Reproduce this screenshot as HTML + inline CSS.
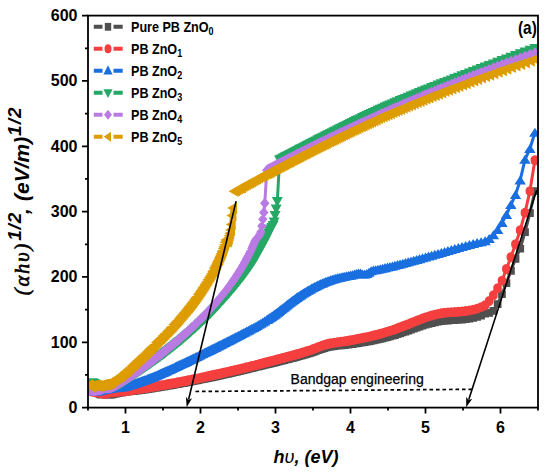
<!DOCTYPE html>
<html><head><meta charset="utf-8"><style>
html,body{margin:0;padding:0;background:#fff;width:550px;height:474px;overflow:hidden}
svg{display:block}
text{font-family:"Liberation Sans",sans-serif}
</style></head><body>
<svg width="550" height="474" viewBox="0 0 550 474">
<defs><clipPath id="cp"><rect x="88" y="15.6" width="450" height="392"/></clipPath></defs>
<rect width="550" height="474" fill="#fff"/>
<g clip-path="url(#cp)">
<path d="M88.0 391.3L88.6 391.2L89.2 391.1L89.8 391.1L90.4 391.0L91.1 391.0L91.7 390.9L92.3 390.9L92.9 390.9L93.6 391.0L94.2 390.9L94.8 391.0L95.4 391.1L96.0 391.4L96.7 391.8L97.3 392.3L97.9 392.9L98.5 393.4L99.1 393.9L99.8 394.2L100.4 394.4L101.0 394.5L101.7 394.5L102.3 394.6L102.9 394.6L103.6 394.7L104.2 394.7L104.8 394.7L105.5 394.8L106.1 394.8L106.7 394.9L107.3 394.9L108.0 394.9L108.6 395.0L109.3 394.9L109.9 394.9L110.5 394.8L111.1 394.7L111.8 394.5L112.4 394.4L113.1 394.2L113.8 394.0L114.4 393.8L115.0 393.7L115.6 393.6L116.3 393.4L116.9 393.3L117.6 393.1L118.3 393.0L119.0 392.9L119.6 392.8L120.2 392.6L120.8 392.5L121.5 392.4L122.1 392.3L122.8 392.2L123.5 392.1L124.2 392.0L124.9 391.9L125.6 391.8L126.2 391.8L126.9 391.7L127.5 391.6L128.1 391.5L128.8 391.4L129.4 391.4L130.1 391.3L130.8 391.2L131.5 391.2L132.2 391.1L132.9 391.0L133.7 391.0L134.4 390.9L135.0 390.9L135.7 390.8L136.3 390.7L136.9 390.6L137.6 390.5L138.2 390.4L138.9 390.3L139.6 390.2L140.3 390.1L141.0 390.0L141.7 389.9L142.4 389.8L143.1 389.7L143.9 389.6L144.6 389.5L145.4 389.4L146.2 389.3L147.0 389.1L147.6 389.1L148.2 389.0L148.8 388.9L149.4 388.8L150.1 388.7L150.7 388.6L151.4 388.5L152.0 388.4L152.7 388.3L153.4 388.2L154.1 388.0L154.8 387.9L155.5 387.8L156.2 387.7L156.9 387.6L157.6 387.5L158.4 387.3L159.1 387.2L159.9 387.1L160.7 387.0L161.5 386.8L162.3 386.7L163.1 386.6L163.9 386.4L164.8 386.3L165.6 386.1L166.5 386.0L167.3 385.8L168.2 385.7L169.1 385.5L169.7 385.4L170.3 385.3L171.0 385.2L171.6 385.1L172.2 385.0L172.9 384.9L173.5 384.8L174.2 384.6L174.8 384.5L175.5 384.4L176.2 384.3L176.9 384.1L177.5 384.0L178.2 383.9L179.0 383.8L179.7 383.6L180.4 383.5L181.1 383.4L181.9 383.2L182.6 383.1L183.4 382.9L184.1 382.8L184.9 382.6L185.7 382.5L186.5 382.3L187.3 382.2L188.1 382.0L188.9 381.9L189.7 381.7L190.6 381.6L191.4 381.4L192.3 381.2L193.1 381.1L194.0 380.9L194.9 380.7L195.8 380.5L196.7 380.3L197.7 380.1L198.6 380.0L199.5 379.8L200.5 379.6L201.5 379.4L202.5 379.2L203.5 379.0L204.5 378.8L205.5 378.5L206.5 378.3L207.6 378.1L208.7 377.9L209.7 377.6L210.8 377.4L212.0 377.2L213.1 376.9L214.2 376.7L215.4 376.4L216.6 376.2L217.8 375.9L218.4 375.8L219.0 375.7L219.6 375.5L220.2 375.4L220.8 375.2L221.5 375.1L222.1 375.0L222.7 374.8L223.4 374.7L224.0 374.5L224.7 374.4L225.3 374.2L226.0 374.1L226.6 373.9L227.3 373.8L228.0 373.6L228.7 373.5L229.3 373.3L230.0 373.2L230.7 373.0L231.4 372.9L232.1 372.7L232.9 372.5L233.6 372.4L234.3 372.2L235.0 372.0L235.8 371.9L236.5 371.7L237.2 371.5L238.0 371.3L238.8 371.2L239.5 371.0L240.3 370.8L241.1 370.6L241.9 370.4L242.6 370.2L243.4 370.1L244.2 369.9L245.1 369.7L245.9 369.5L246.7 369.3L247.5 369.1L248.4 368.9L249.2 368.7L250.1 368.5L250.9 368.3L251.8 368.1L252.7 367.8L253.6 367.6L254.4 367.4L255.3 367.2L256.3 367.0L257.2 366.8L258.1 366.5L259.0 366.3L260.0 366.1L260.9 365.9L261.9 365.6L262.8 365.4L263.8 365.1L264.8 364.9L265.8 364.7L266.8 364.4L267.8 364.2L268.8 363.9L269.8 363.6L270.9 363.4L271.9 363.1L273.0 362.9L274.1 362.6L275.1 362.3L276.2 362.0L277.3 361.8L278.4 361.5L279.6 361.2L280.7 360.9L281.8 360.6L283.0 360.3L284.2 360.0L285.3 359.7L286.5 359.4L287.7 359.1L289.0 358.8L290.2 358.5L291.4 358.1L292.7 357.8L294.0 357.5L295.2 357.1L296.5 356.8L297.8 356.4L299.2 356.1L300.5 355.7L301.9 355.3L303.2 354.9L304.6 354.6L306.0 354.2L307.4 353.7L308.8 353.3L310.3 352.8L311.7 352.3L313.2 351.8L314.7 351.3L316.2 350.8L317.7 350.2L319.3 349.6L320.8 349.1L322.4 348.5L324.0 348.0L325.6 347.6L327.3 347.2L328.9 346.9L330.6 346.6L332.3 346.4L334.0 346.2L335.8 345.9L337.5 345.8L339.3 345.6L341.1 345.4L343.0 345.2L344.8 345.0L346.7 344.8L348.6 344.5L350.5 344.3L352.4 344.0L354.4 343.7L356.4 343.4L358.4 343.1L360.5 342.8L362.6 342.4L364.7 342.1L366.8 341.7L369.0 341.3L371.2 340.9L373.4 340.4L375.7 339.9L378.0 339.4L380.3 338.9L382.6 338.3L385.0 337.8L387.5 337.1L389.9 336.5L392.4 335.7L394.9 335.0L397.5 334.2L400.1 333.3L402.8 332.5L405.5 331.5L408.2 330.6L411.0 329.6L413.8 328.6L416.6 327.6L419.5 326.6L422.5 325.6L425.5 324.7L428.5 323.8L431.6 323.0L434.8 322.3L438.0 321.8L441.3 321.3L444.6 320.8L447.9 320.5L451.4 320.3L454.8 320.1L458.4 319.9L462.0 319.6L465.7 319.2L469.4 318.7L473.2 318.0L477.1 316.9L481.1 315.5L485.1 313.7L489.2 312.8L493.4 310.9L497.6 304.0L502.0 294.2L506.4 283.0L510.9 270.8L515.5 258.9L520.2 248.7L525.0 232.0L529.9 213.1L534.9 191.1" fill="none" stroke="#4F4F4F" stroke-width="3.0" stroke-linejoin="round"/>
<path d="M84.2 387.4h7.7v7.7h-7.7zM85.2 387.3h7.7v7.7h-7.7zM86.2 387.2h7.7v7.7h-7.7zM87.3 387.1h7.7v7.7h-7.7zM88.3 387.1h7.7v7.7h-7.7zM89.3 387.1h7.7v7.7h-7.7zM90.3 387.1h7.7v7.7h-7.7zM91.3 387.2h7.7v7.7h-7.7zM92.4 387.7h7.7v7.7h-7.7zM93.4 388.4h7.7v7.7h-7.7zM94.4 389.3h7.7v7.7h-7.7zM95.4 390.1h7.7v7.7h-7.7zM96.5 390.5h7.7v7.7h-7.7zM97.5 390.7h7.7v7.7h-7.7zM98.5 390.8h7.7v7.7h-7.7zM99.5 390.8h7.7v7.7h-7.7zM100.6 390.9h7.7v7.7h-7.7zM101.6 390.9h7.7v7.7h-7.7zM102.6 391.0h7.7v7.7h-7.7zM103.7 391.1h7.7v7.7h-7.7zM104.7 391.1h7.7v7.7h-7.7zM105.8 391.1h7.7v7.7h-7.7zM106.8 390.9h7.7v7.7h-7.7zM107.9 390.7h7.7v7.7h-7.7zM108.9 390.4h7.7v7.7h-7.7zM109.9 390.2h7.7v7.7h-7.7zM111.0 389.9h7.7v7.7h-7.7zM112.1 389.7h7.7v7.7h-7.7zM113.1 389.5h7.7v7.7h-7.7zM114.2 389.2h7.7v7.7h-7.7zM115.3 389.0h7.7v7.7h-7.7zM116.3 388.8h7.7v7.7h-7.7zM117.3 388.7h7.7v7.7h-7.7zM118.4 388.5h7.7v7.7h-7.7zM119.4 388.3h7.7v7.7h-7.7zM120.5 388.2h7.7v7.7h-7.7zM121.6 388.1h7.7v7.7h-7.7zM122.7 387.9h7.7v7.7h-7.7zM123.7 387.8h7.7v7.7h-7.7zM124.7 387.6h7.7v7.7h-7.7zM125.8 387.5h7.7v7.7h-7.7zM126.8 387.4h7.7v7.7h-7.7zM128.0 387.3h7.7v7.7h-7.7zM129.0 387.2h7.7v7.7h-7.7zM130.0 387.1h7.7v7.7h-7.7zM131.1 387.1h7.7v7.7h-7.7zM132.2 386.9h7.7v7.7h-7.7zM133.3 386.8h7.7v7.7h-7.7zM134.4 386.6h7.7v7.7h-7.7zM135.4 386.5h7.7v7.7h-7.7zM136.4 386.3h7.7v7.7h-7.7zM137.5 386.2h7.7v7.7h-7.7zM138.6 386.0h7.7v7.7h-7.7zM139.7 385.8h7.7v7.7h-7.7zM140.8 385.7h7.7v7.7h-7.7zM142.0 385.5h7.7v7.7h-7.7zM143.1 385.3h7.7v7.7h-7.7zM144.2 385.2h7.7v7.7h-7.7zM145.2 385.0h7.7v7.7h-7.7zM146.2 384.8h7.7v7.7h-7.7zM147.3 384.7h7.7v7.7h-7.7zM148.4 384.5h7.7v7.7h-7.7zM149.6 384.3h7.7v7.7h-7.7zM150.7 384.1h7.7v7.7h-7.7zM151.9 384.0h7.7v7.7h-7.7zM153.1 383.8h7.7v7.7h-7.7zM154.3 383.6h7.7v7.7h-7.7zM155.3 383.4h7.7v7.7h-7.7zM156.3 383.2h7.7v7.7h-7.7zM157.4 383.1h7.7v7.7h-7.7zM158.5 382.9h7.7v7.7h-7.7zM159.5 382.7h7.7v7.7h-7.7zM160.6 382.5h7.7v7.7h-7.7zM161.8 382.3h7.7v7.7h-7.7zM162.9 382.1h7.7v7.7h-7.7zM164.1 381.9h7.7v7.7h-7.7zM165.3 381.7h7.7v7.7h-7.7zM166.5 381.5h7.7v7.7h-7.7zM167.8 381.3h7.7v7.7h-7.7zM169.0 381.0h7.7v7.7h-7.7zM170.3 380.8h7.7v7.7h-7.7zM171.7 380.6h7.7v7.7h-7.7zM172.7 380.4h7.7v7.7h-7.7zM173.7 380.2h7.7v7.7h-7.7zM174.8 380.0h7.7v7.7h-7.7zM175.8 379.8h7.7v7.7h-7.7zM176.9 379.6h7.7v7.7h-7.7zM178.0 379.4h7.7v7.7h-7.7zM179.2 379.2h7.7v7.7h-7.7zM180.3 379.0h7.7v7.7h-7.7zM181.5 378.8h7.7v7.7h-7.7zM182.6 378.5h7.7v7.7h-7.7zM183.8 378.3h7.7v7.7h-7.7zM185.1 378.1h7.7v7.7h-7.7zM186.3 377.8h7.7v7.7h-7.7zM187.6 377.6h7.7v7.7h-7.7zM188.9 377.3h7.7v7.7h-7.7zM190.2 377.1h7.7v7.7h-7.7zM191.5 376.8h7.7v7.7h-7.7zM192.9 376.5h7.7v7.7h-7.7zM194.3 376.2h7.7v7.7h-7.7zM195.7 375.9h7.7v7.7h-7.7zM197.2 375.6h7.7v7.7h-7.7zM198.6 375.3h7.7v7.7h-7.7zM200.1 375.0h7.7v7.7h-7.7zM201.2 374.8h7.7v7.7h-7.7zM202.2 374.6h7.7v7.7h-7.7zM203.2 374.4h7.7v7.7h-7.7zM204.3 374.2h7.7v7.7h-7.7zM205.4 373.9h7.7v7.7h-7.7zM206.5 373.7h7.7v7.7h-7.7zM207.6 373.5h7.7v7.7h-7.7zM208.7 373.2h7.7v7.7h-7.7zM209.8 373.0h7.7v7.7h-7.7zM211.0 372.7h7.7v7.7h-7.7zM212.2 372.5h7.7v7.7h-7.7zM213.3 372.2h7.7v7.7h-7.7zM214.5 372.0h7.7v7.7h-7.7zM215.8 371.7h7.7v7.7h-7.7zM217.0 371.4h7.7v7.7h-7.7zM218.3 371.1h7.7v7.7h-7.7zM219.5 370.9h7.7v7.7h-7.7zM220.8 370.6h7.7v7.7h-7.7zM222.1 370.3h7.7v7.7h-7.7zM223.5 370.0h7.7v7.7h-7.7zM224.8 369.7h7.7v7.7h-7.7zM226.2 369.4h7.7v7.7h-7.7zM227.6 369.0h7.7v7.7h-7.7zM229.0 368.7h7.7v7.7h-7.7zM230.5 368.4h7.7v7.7h-7.7zM231.9 368.0h7.7v7.7h-7.7zM233.4 367.7h7.7v7.7h-7.7zM234.9 367.3h7.7v7.7h-7.7zM236.5 367.0h7.7v7.7h-7.7zM238.0 366.6h7.7v7.7h-7.7zM239.6 366.2h7.7v7.7h-7.7zM241.2 365.8h7.7v7.7h-7.7zM242.9 365.5h7.7v7.7h-7.7zM244.5 365.1h7.7v7.7h-7.7zM246.2 364.6h7.7v7.7h-7.7zM248.0 364.2h7.7v7.7h-7.7zM249.7 363.8h7.7v7.7h-7.7zM251.5 363.4h7.7v7.7h-7.7zM253.3 362.9h7.7v7.7h-7.7zM255.2 362.5h7.7v7.7h-7.7zM257.1 362.0h7.7v7.7h-7.7zM259.0 361.6h7.7v7.7h-7.7zM261.0 361.1h7.7v7.7h-7.7zM263.0 360.6h7.7v7.7h-7.7zM264.0 360.3h7.7v7.7h-7.7zM265.0 360.1h7.7v7.7h-7.7zM266.0 359.8h7.7v7.7h-7.7zM267.1 359.6h7.7v7.7h-7.7zM268.1 359.3h7.7v7.7h-7.7zM269.2 359.0h7.7v7.7h-7.7zM270.2 358.8h7.7v7.7h-7.7zM271.3 358.5h7.7v7.7h-7.7zM272.4 358.2h7.7v7.7h-7.7zM273.5 357.9h7.7v7.7h-7.7zM274.6 357.7h7.7v7.7h-7.7zM275.7 357.4h7.7v7.7h-7.7zM276.9 357.1h7.7v7.7h-7.7zM278.0 356.8h7.7v7.7h-7.7zM279.2 356.5h7.7v7.7h-7.7zM280.3 356.2h7.7v7.7h-7.7zM281.5 355.9h7.7v7.7h-7.7zM282.7 355.6h7.7v7.7h-7.7zM283.9 355.3h7.7v7.7h-7.7zM285.1 355.0h7.7v7.7h-7.7zM286.4 354.6h7.7v7.7h-7.7zM287.6 354.3h7.7v7.7h-7.7zM288.9 354.0h7.7v7.7h-7.7zM290.1 353.7h7.7v7.7h-7.7zM291.4 353.3h7.7v7.7h-7.7zM292.7 353.0h7.7v7.7h-7.7zM294.0 352.6h7.7v7.7h-7.7zM295.3 352.2h7.7v7.7h-7.7zM296.7 351.9h7.7v7.7h-7.7zM298.0 351.5h7.7v7.7h-7.7zM299.4 351.1h7.7v7.7h-7.7zM300.8 350.7h7.7v7.7h-7.7zM302.2 350.3h7.7v7.7h-7.7zM303.6 349.9h7.7v7.7h-7.7zM305.0 349.5h7.7v7.7h-7.7zM306.5 349.0h7.7v7.7h-7.7zM307.9 348.5h7.7v7.7h-7.7zM309.4 348.0h7.7v7.7h-7.7zM310.9 347.5h7.7v7.7h-7.7zM312.4 346.9h7.7v7.7h-7.7zM313.9 346.4h7.7v7.7h-7.7zM315.5 345.8h7.7v7.7h-7.7zM317.0 345.3h7.7v7.7h-7.7zM318.6 344.7h7.7v7.7h-7.7zM320.2 344.2h7.7v7.7h-7.7zM321.8 343.8h7.7v7.7h-7.7zM323.5 343.4h7.7v7.7h-7.7zM325.1 343.1h7.7v7.7h-7.7zM326.8 342.8h7.7v7.7h-7.7zM328.5 342.5h7.7v7.7h-7.7zM330.2 342.3h7.7v7.7h-7.7zM332.0 342.1h7.7v7.7h-7.7zM333.7 341.9h7.7v7.7h-7.7zM335.5 341.8h7.7v7.7h-7.7zM337.3 341.6h7.7v7.7h-7.7zM339.1 341.4h7.7v7.7h-7.7zM341.0 341.2h7.7v7.7h-7.7zM342.9 340.9h7.7v7.7h-7.7zM344.8 340.7h7.7v7.7h-7.7zM346.7 340.4h7.7v7.7h-7.7zM348.6 340.2h7.7v7.7h-7.7zM350.6 339.9h7.7v7.7h-7.7zM352.6 339.6h7.7v7.7h-7.7zM354.6 339.3h7.7v7.7h-7.7zM356.7 338.9h7.7v7.7h-7.7zM358.8 338.6h7.7v7.7h-7.7zM360.9 338.2h7.7v7.7h-7.7zM363.0 337.9h7.7v7.7h-7.7zM365.2 337.5h7.7v7.7h-7.7zM367.4 337.0h7.7v7.7h-7.7zM369.6 336.6h7.7v7.7h-7.7zM371.8 336.1h7.7v7.7h-7.7zM374.1 335.6h7.7v7.7h-7.7zM376.5 335.1h7.7v7.7h-7.7zM378.8 334.5h7.7v7.7h-7.7zM381.2 333.9h7.7v7.7h-7.7zM383.6 333.3h7.7v7.7h-7.7zM386.1 332.6h7.7v7.7h-7.7zM388.6 331.9h7.7v7.7h-7.7zM391.1 331.2h7.7v7.7h-7.7zM393.7 330.4h7.7v7.7h-7.7zM396.3 329.5h7.7v7.7h-7.7zM398.9 328.6h7.7v7.7h-7.7zM401.6 327.7h7.7v7.7h-7.7zM404.4 326.8h7.7v7.7h-7.7zM407.1 325.8h7.7v7.7h-7.7zM410.0 324.8h7.7v7.7h-7.7zM412.8 323.8h7.7v7.7h-7.7zM415.7 322.8h7.7v7.7h-7.7zM418.7 321.8h7.7v7.7h-7.7zM421.7 320.9h7.7v7.7h-7.7zM424.7 320.0h7.7v7.7h-7.7zM427.8 319.2h7.7v7.7h-7.7zM431.0 318.5h7.7v7.7h-7.7zM434.2 317.9h7.7v7.7h-7.7zM437.4 317.4h7.7v7.7h-7.7zM440.7 317.0h7.7v7.7h-7.7zM444.1 316.7h7.7v7.7h-7.7zM447.5 316.4h7.7v7.7h-7.7zM451.0 316.2h7.7v7.7h-7.7zM454.6 316.0h7.7v7.7h-7.7zM458.2 315.8h7.7v7.7h-7.7zM461.9 315.4h7.7v7.7h-7.7zM465.6 314.9h7.7v7.7h-7.7zM469.4 314.1h7.7v7.7h-7.7zM473.3 313.1h7.7v7.7h-7.7zM477.2 311.7h7.7v7.7h-7.7zM481.3 309.8h7.7v7.7h-7.7zM485.4 309.0h7.7v7.7h-7.7zM489.5 307.1h7.7v7.7h-7.7zM493.8 300.2h7.7v7.7h-7.7zM498.1 290.4h7.7v7.7h-7.7zM502.6 279.2h7.7v7.7h-7.7zM507.1 267.0h7.7v7.7h-7.7zM511.7 255.1h7.7v7.7h-7.7zM516.4 244.9h7.7v7.7h-7.7zM521.2 228.2h7.7v7.7h-7.7zM526.1 209.3h7.7v7.7h-7.7zM531.0 187.3h7.7v7.7h-7.7z" fill="#4F4F4F"/>
<path d="M88.0 388.9L88.6 389.1L89.2 389.4L89.8 389.8L90.4 390.3L91.1 390.8L91.7 391.3L92.3 391.7L92.9 391.9L93.6 392.0L94.2 392.1L94.8 392.0L95.4 392.0L96.0 392.1L96.7 392.2L97.3 392.3L97.9 392.5L98.5 392.7L99.1 392.8L99.8 392.9L100.4 393.0L101.0 393.2L101.7 393.4L102.3 393.6L102.9 393.7L103.6 393.9L104.2 393.9L104.8 393.9L105.5 393.8L106.1 393.6L106.7 393.4L107.3 393.2L108.0 393.0L108.6 392.8L109.3 392.6L109.9 392.5L110.5 392.4L111.1 392.4L111.8 392.3L112.4 392.3L113.1 392.2L113.8 392.2L114.4 392.1L115.0 392.1L115.6 392.0L116.3 391.9L116.9 391.9L117.6 391.8L118.3 391.8L119.0 391.7L119.6 391.7L120.2 391.6L120.8 391.6L121.5 391.6L122.1 391.5L122.8 391.5L123.5 391.4L124.2 391.4L124.9 391.3L125.6 391.2L126.2 391.2L126.9 391.1L127.5 391.0L128.1 390.9L128.8 390.8L129.4 390.6L130.1 390.5L130.8 390.4L131.5 390.3L132.2 390.1L132.9 390.0L133.7 389.8L134.4 389.7L135.0 389.6L135.7 389.5L136.3 389.4L136.9 389.3L137.6 389.2L138.2 389.1L138.9 389.0L139.6 388.9L140.3 388.8L141.0 388.7L141.7 388.6L142.4 388.5L143.1 388.4L143.9 388.3L144.6 388.1L145.4 388.0L146.2 387.9L147.0 387.8L147.6 387.7L148.2 387.6L148.8 387.5L149.4 387.4L150.1 387.3L150.7 387.2L151.4 387.1L152.0 387.0L152.7 386.9L153.4 386.7L154.1 386.6L154.8 386.5L155.5 386.4L156.2 386.3L156.9 386.2L157.6 386.0L158.4 385.9L159.1 385.8L159.9 385.6L160.7 385.5L161.5 385.4L162.3 385.2L163.1 385.1L163.9 385.0L164.8 384.8L165.6 384.7L166.5 384.5L167.3 384.3L168.2 384.2L169.1 384.0L169.7 383.9L170.3 383.8L171.0 383.7L171.6 383.6L172.2 383.5L172.9 383.3L173.5 383.2L174.2 383.1L174.8 383.0L175.5 382.9L176.2 382.7L176.9 382.6L177.5 382.5L178.2 382.3L179.0 382.2L179.7 382.1L180.4 381.9L181.1 381.8L181.9 381.6L182.6 381.5L183.4 381.4L184.1 381.2L184.9 381.1L185.7 380.9L186.5 380.7L187.3 380.6L188.1 380.4L188.9 380.3L189.7 380.1L190.6 379.9L191.4 379.8L192.3 379.6L193.1 379.4L194.0 379.2L194.9 379.0L195.8 378.9L196.7 378.7L197.7 378.5L198.6 378.3L199.5 378.1L200.5 377.9L201.5 377.7L202.5 377.5L203.5 377.2L204.5 377.0L205.5 376.8L206.5 376.6L207.6 376.4L208.7 376.1L209.7 375.9L210.8 375.7L212.0 375.4L213.1 375.2L214.2 374.9L215.4 374.6L216.6 374.4L217.8 374.1L218.4 374.0L219.0 373.8L219.6 373.7L220.2 373.6L220.8 373.4L221.5 373.3L222.1 373.1L222.7 373.0L223.4 372.8L224.0 372.7L224.7 372.6L225.3 372.4L226.0 372.2L226.6 372.1L227.3 371.9L228.0 371.8L228.7 371.6L229.3 371.5L230.0 371.3L230.7 371.1L231.4 371.0L232.1 370.8L232.9 370.6L233.6 370.5L234.3 370.3L235.0 370.1L235.8 370.0L236.5 369.8L237.2 369.6L238.0 369.4L238.8 369.2L239.5 369.0L240.3 368.9L241.1 368.7L241.9 368.5L242.6 368.3L243.4 368.1L244.2 367.9L245.1 367.7L245.9 367.5L246.7 367.3L247.5 367.1L248.4 366.9L249.2 366.7L250.1 366.5L250.9 366.3L251.8 366.0L252.7 365.8L253.6 365.6L254.4 365.4L255.3 365.2L256.3 364.9L257.2 364.7L258.1 364.5L259.0 364.2L260.0 364.0L260.9 363.7L261.9 363.5L262.8 363.3L263.8 363.0L264.8 362.8L265.8 362.5L266.8 362.2L267.8 362.0L268.8 361.7L269.8 361.5L270.9 361.2L271.9 360.9L273.0 360.6L274.1 360.4L275.1 360.1L276.2 359.8L277.3 359.5L278.4 359.2L279.6 358.9L280.7 358.6L281.8 358.3L283.0 358.0L284.2 357.7L285.3 357.4L286.5 357.0L287.7 356.7L289.0 356.4L290.2 356.1L291.4 355.7L292.7 355.4L294.0 355.0L295.2 354.7L296.5 354.3L297.8 354.0L299.2 353.6L300.5 353.2L301.9 352.8L303.2 352.4L304.6 351.9L306.0 351.5L307.4 351.0L308.8 350.6L310.3 350.1L311.7 349.6L313.2 349.0L314.7 348.5L316.2 347.9L317.7 347.3L319.3 346.6L320.8 346.1L322.4 345.5L324.0 344.9L325.6 344.5L327.3 344.0L328.9 343.7L330.6 343.3L332.3 343.1L334.0 342.8L335.8 342.6L337.5 342.3L339.3 342.1L341.1 341.8L343.0 341.6L344.8 341.3L346.7 341.0L348.6 340.7L350.5 340.3L352.4 340.0L354.4 339.6L356.4 339.2L358.4 338.8L360.5 338.4L362.6 338.0L364.7 337.5L366.8 337.1L369.0 336.6L371.2 336.1L373.4 335.5L375.7 335.0L378.0 334.4L380.3 333.7L382.6 333.1L385.0 332.4L387.5 331.6L389.9 330.9L392.4 330.1L394.9 329.2L397.5 328.3L400.1 327.3L402.8 326.3L405.5 325.3L408.2 324.2L411.0 323.0L413.8 321.9L416.6 320.8L419.5 319.6L422.5 318.5L425.5 317.4L428.5 316.4L431.6 315.5L434.8 314.6L438.0 313.9L441.3 313.3L444.6 312.8L447.9 312.4L451.4 312.1L454.8 311.9L458.4 311.7L462.0 311.4L465.7 311.0L469.4 310.4L473.2 309.6L477.1 308.6L481.1 307.1L485.1 305.2L489.2 301.0L493.4 295.2L497.6 288.3L502.0 280.6L506.4 269.0L510.9 257.1L515.5 244.3L520.2 230.2L525.0 212.8L529.9 191.1L534.9 160.3" fill="none" stroke="#F53F3F" stroke-width="3.0" stroke-linejoin="round"/>
<path d="M83.7 388.9a4.3 4.3 0 1 0 8.5 0a4.3 4.3 0 1 0 -8.5 0zM84.8 389.3a4.3 4.3 0 1 0 8.5 0a4.3 4.3 0 1 0 -8.5 0zM85.8 389.9a4.3 4.3 0 1 0 8.5 0a4.3 4.3 0 1 0 -8.5 0zM86.8 390.8a4.3 4.3 0 1 0 8.5 0a4.3 4.3 0 1 0 -8.5 0zM87.8 391.5a4.3 4.3 0 1 0 8.5 0a4.3 4.3 0 1 0 -8.5 0zM88.8 391.9a4.3 4.3 0 1 0 8.5 0a4.3 4.3 0 1 0 -8.5 0zM89.9 392.1a4.3 4.3 0 1 0 8.5 0a4.3 4.3 0 1 0 -8.5 0zM90.9 392.0a4.3 4.3 0 1 0 8.5 0a4.3 4.3 0 1 0 -8.5 0zM91.9 392.1a4.3 4.3 0 1 0 8.5 0a4.3 4.3 0 1 0 -8.5 0zM92.9 392.3a4.3 4.3 0 1 0 8.5 0a4.3 4.3 0 1 0 -8.5 0zM93.9 392.6a4.3 4.3 0 1 0 8.5 0a4.3 4.3 0 1 0 -8.5 0zM95.0 392.8a4.3 4.3 0 1 0 8.5 0a4.3 4.3 0 1 0 -8.5 0zM96.0 393.0a4.3 4.3 0 1 0 8.5 0a4.3 4.3 0 1 0 -8.5 0zM97.0 393.3a4.3 4.3 0 1 0 8.5 0a4.3 4.3 0 1 0 -8.5 0zM98.1 393.6a4.3 4.3 0 1 0 8.5 0a4.3 4.3 0 1 0 -8.5 0zM99.1 393.8a4.3 4.3 0 1 0 8.5 0a4.3 4.3 0 1 0 -8.5 0zM100.1 393.9a4.3 4.3 0 1 0 8.5 0a4.3 4.3 0 1 0 -8.5 0zM101.1 393.8a4.3 4.3 0 1 0 8.5 0a4.3 4.3 0 1 0 -8.5 0zM102.2 393.5a4.3 4.3 0 1 0 8.5 0a4.3 4.3 0 1 0 -8.5 0zM103.2 393.2a4.3 4.3 0 1 0 8.5 0a4.3 4.3 0 1 0 -8.5 0zM104.3 392.8a4.3 4.3 0 1 0 8.5 0a4.3 4.3 0 1 0 -8.5 0zM105.3 392.6a4.3 4.3 0 1 0 8.5 0a4.3 4.3 0 1 0 -8.5 0zM106.4 392.4a4.3 4.3 0 1 0 8.5 0a4.3 4.3 0 1 0 -8.5 0zM107.4 392.3a4.3 4.3 0 1 0 8.5 0a4.3 4.3 0 1 0 -8.5 0zM108.5 392.2a4.3 4.3 0 1 0 8.5 0a4.3 4.3 0 1 0 -8.5 0zM109.5 392.2a4.3 4.3 0 1 0 8.5 0a4.3 4.3 0 1 0 -8.5 0zM110.5 392.1a4.3 4.3 0 1 0 8.5 0a4.3 4.3 0 1 0 -8.5 0zM111.6 392.0a4.3 4.3 0 1 0 8.5 0a4.3 4.3 0 1 0 -8.5 0zM112.7 391.9a4.3 4.3 0 1 0 8.5 0a4.3 4.3 0 1 0 -8.5 0zM113.7 391.8a4.3 4.3 0 1 0 8.5 0a4.3 4.3 0 1 0 -8.5 0zM114.8 391.7a4.3 4.3 0 1 0 8.5 0a4.3 4.3 0 1 0 -8.5 0zM115.8 391.6a4.3 4.3 0 1 0 8.5 0a4.3 4.3 0 1 0 -8.5 0zM116.9 391.6a4.3 4.3 0 1 0 8.5 0a4.3 4.3 0 1 0 -8.5 0zM118.0 391.5a4.3 4.3 0 1 0 8.5 0a4.3 4.3 0 1 0 -8.5 0zM119.0 391.4a4.3 4.3 0 1 0 8.5 0a4.3 4.3 0 1 0 -8.5 0zM120.0 391.4a4.3 4.3 0 1 0 8.5 0a4.3 4.3 0 1 0 -8.5 0zM121.1 391.3a4.3 4.3 0 1 0 8.5 0a4.3 4.3 0 1 0 -8.5 0zM122.2 391.1a4.3 4.3 0 1 0 8.5 0a4.3 4.3 0 1 0 -8.5 0zM123.2 391.0a4.3 4.3 0 1 0 8.5 0a4.3 4.3 0 1 0 -8.5 0zM124.2 390.8a4.3 4.3 0 1 0 8.5 0a4.3 4.3 0 1 0 -8.5 0zM125.3 390.6a4.3 4.3 0 1 0 8.5 0a4.3 4.3 0 1 0 -8.5 0zM126.4 390.4a4.3 4.3 0 1 0 8.5 0a4.3 4.3 0 1 0 -8.5 0zM127.5 390.2a4.3 4.3 0 1 0 8.5 0a4.3 4.3 0 1 0 -8.5 0zM128.5 390.0a4.3 4.3 0 1 0 8.5 0a4.3 4.3 0 1 0 -8.5 0zM129.6 389.8a4.3 4.3 0 1 0 8.5 0a4.3 4.3 0 1 0 -8.5 0zM130.6 389.6a4.3 4.3 0 1 0 8.5 0a4.3 4.3 0 1 0 -8.5 0zM131.7 389.4a4.3 4.3 0 1 0 8.5 0a4.3 4.3 0 1 0 -8.5 0zM132.8 389.3a4.3 4.3 0 1 0 8.5 0a4.3 4.3 0 1 0 -8.5 0zM134.0 389.1a4.3 4.3 0 1 0 8.5 0a4.3 4.3 0 1 0 -8.5 0zM135.0 389.0a4.3 4.3 0 1 0 8.5 0a4.3 4.3 0 1 0 -8.5 0zM136.0 388.8a4.3 4.3 0 1 0 8.5 0a4.3 4.3 0 1 0 -8.5 0zM137.0 388.6a4.3 4.3 0 1 0 8.5 0a4.3 4.3 0 1 0 -8.5 0zM138.1 388.5a4.3 4.3 0 1 0 8.5 0a4.3 4.3 0 1 0 -8.5 0zM139.2 388.3a4.3 4.3 0 1 0 8.5 0a4.3 4.3 0 1 0 -8.5 0zM140.4 388.1a4.3 4.3 0 1 0 8.5 0a4.3 4.3 0 1 0 -8.5 0zM141.5 388.0a4.3 4.3 0 1 0 8.5 0a4.3 4.3 0 1 0 -8.5 0zM142.7 387.8a4.3 4.3 0 1 0 8.5 0a4.3 4.3 0 1 0 -8.5 0zM143.7 387.6a4.3 4.3 0 1 0 8.5 0a4.3 4.3 0 1 0 -8.5 0zM144.7 387.5a4.3 4.3 0 1 0 8.5 0a4.3 4.3 0 1 0 -8.5 0zM145.8 387.3a4.3 4.3 0 1 0 8.5 0a4.3 4.3 0 1 0 -8.5 0zM146.9 387.1a4.3 4.3 0 1 0 8.5 0a4.3 4.3 0 1 0 -8.5 0zM148.0 386.9a4.3 4.3 0 1 0 8.5 0a4.3 4.3 0 1 0 -8.5 0zM149.1 386.7a4.3 4.3 0 1 0 8.5 0a4.3 4.3 0 1 0 -8.5 0zM150.3 386.6a4.3 4.3 0 1 0 8.5 0a4.3 4.3 0 1 0 -8.5 0zM151.4 386.4a4.3 4.3 0 1 0 8.5 0a4.3 4.3 0 1 0 -8.5 0zM152.6 386.2a4.3 4.3 0 1 0 8.5 0a4.3 4.3 0 1 0 -8.5 0zM153.9 386.0a4.3 4.3 0 1 0 8.5 0a4.3 4.3 0 1 0 -8.5 0zM154.9 385.8a4.3 4.3 0 1 0 8.5 0a4.3 4.3 0 1 0 -8.5 0zM155.9 385.6a4.3 4.3 0 1 0 8.5 0a4.3 4.3 0 1 0 -8.5 0zM156.9 385.4a4.3 4.3 0 1 0 8.5 0a4.3 4.3 0 1 0 -8.5 0zM158.0 385.2a4.3 4.3 0 1 0 8.5 0a4.3 4.3 0 1 0 -8.5 0zM159.1 385.1a4.3 4.3 0 1 0 8.5 0a4.3 4.3 0 1 0 -8.5 0zM160.2 384.9a4.3 4.3 0 1 0 8.5 0a4.3 4.3 0 1 0 -8.5 0zM161.3 384.7a4.3 4.3 0 1 0 8.5 0a4.3 4.3 0 1 0 -8.5 0zM162.5 384.5a4.3 4.3 0 1 0 8.5 0a4.3 4.3 0 1 0 -8.5 0zM163.6 384.2a4.3 4.3 0 1 0 8.5 0a4.3 4.3 0 1 0 -8.5 0zM164.8 384.0a4.3 4.3 0 1 0 8.5 0a4.3 4.3 0 1 0 -8.5 0zM166.1 383.8a4.3 4.3 0 1 0 8.5 0a4.3 4.3 0 1 0 -8.5 0zM167.3 383.6a4.3 4.3 0 1 0 8.5 0a4.3 4.3 0 1 0 -8.5 0zM168.6 383.3a4.3 4.3 0 1 0 8.5 0a4.3 4.3 0 1 0 -8.5 0zM169.9 383.1a4.3 4.3 0 1 0 8.5 0a4.3 4.3 0 1 0 -8.5 0zM171.2 382.9a4.3 4.3 0 1 0 8.5 0a4.3 4.3 0 1 0 -8.5 0zM172.2 382.7a4.3 4.3 0 1 0 8.5 0a4.3 4.3 0 1 0 -8.5 0zM173.3 382.5a4.3 4.3 0 1 0 8.5 0a4.3 4.3 0 1 0 -8.5 0zM174.3 382.3a4.3 4.3 0 1 0 8.5 0a4.3 4.3 0 1 0 -8.5 0zM175.4 382.1a4.3 4.3 0 1 0 8.5 0a4.3 4.3 0 1 0 -8.5 0zM176.5 381.9a4.3 4.3 0 1 0 8.5 0a4.3 4.3 0 1 0 -8.5 0zM177.6 381.6a4.3 4.3 0 1 0 8.5 0a4.3 4.3 0 1 0 -8.5 0zM178.7 381.4a4.3 4.3 0 1 0 8.5 0a4.3 4.3 0 1 0 -8.5 0zM179.8 381.2a4.3 4.3 0 1 0 8.5 0a4.3 4.3 0 1 0 -8.5 0zM181.0 381.0a4.3 4.3 0 1 0 8.5 0a4.3 4.3 0 1 0 -8.5 0zM182.2 380.7a4.3 4.3 0 1 0 8.5 0a4.3 4.3 0 1 0 -8.5 0zM183.4 380.5a4.3 4.3 0 1 0 8.5 0a4.3 4.3 0 1 0 -8.5 0zM184.6 380.3a4.3 4.3 0 1 0 8.5 0a4.3 4.3 0 1 0 -8.5 0zM185.9 380.0a4.3 4.3 0 1 0 8.5 0a4.3 4.3 0 1 0 -8.5 0zM187.1 379.8a4.3 4.3 0 1 0 8.5 0a4.3 4.3 0 1 0 -8.5 0zM188.4 379.5a4.3 4.3 0 1 0 8.5 0a4.3 4.3 0 1 0 -8.5 0zM189.7 379.2a4.3 4.3 0 1 0 8.5 0a4.3 4.3 0 1 0 -8.5 0zM191.1 378.9a4.3 4.3 0 1 0 8.5 0a4.3 4.3 0 1 0 -8.5 0zM192.5 378.7a4.3 4.3 0 1 0 8.5 0a4.3 4.3 0 1 0 -8.5 0zM193.8 378.4a4.3 4.3 0 1 0 8.5 0a4.3 4.3 0 1 0 -8.5 0zM195.3 378.1a4.3 4.3 0 1 0 8.5 0a4.3 4.3 0 1 0 -8.5 0zM196.7 377.8a4.3 4.3 0 1 0 8.5 0a4.3 4.3 0 1 0 -8.5 0zM198.2 377.5a4.3 4.3 0 1 0 8.5 0a4.3 4.3 0 1 0 -8.5 0zM199.7 377.1a4.3 4.3 0 1 0 8.5 0a4.3 4.3 0 1 0 -8.5 0zM200.7 376.9a4.3 4.3 0 1 0 8.5 0a4.3 4.3 0 1 0 -8.5 0zM201.7 376.7a4.3 4.3 0 1 0 8.5 0a4.3 4.3 0 1 0 -8.5 0zM202.8 376.5a4.3 4.3 0 1 0 8.5 0a4.3 4.3 0 1 0 -8.5 0zM203.9 376.2a4.3 4.3 0 1 0 8.5 0a4.3 4.3 0 1 0 -8.5 0zM204.9 376.0a4.3 4.3 0 1 0 8.5 0a4.3 4.3 0 1 0 -8.5 0zM206.0 375.8a4.3 4.3 0 1 0 8.5 0a4.3 4.3 0 1 0 -8.5 0zM207.1 375.5a4.3 4.3 0 1 0 8.5 0a4.3 4.3 0 1 0 -8.5 0zM208.2 375.3a4.3 4.3 0 1 0 8.5 0a4.3 4.3 0 1 0 -8.5 0zM209.4 375.0a4.3 4.3 0 1 0 8.5 0a4.3 4.3 0 1 0 -8.5 0zM210.5 374.8a4.3 4.3 0 1 0 8.5 0a4.3 4.3 0 1 0 -8.5 0zM211.7 374.5a4.3 4.3 0 1 0 8.5 0a4.3 4.3 0 1 0 -8.5 0zM212.9 374.3a4.3 4.3 0 1 0 8.5 0a4.3 4.3 0 1 0 -8.5 0zM214.1 374.0a4.3 4.3 0 1 0 8.5 0a4.3 4.3 0 1 0 -8.5 0zM215.3 373.7a4.3 4.3 0 1 0 8.5 0a4.3 4.3 0 1 0 -8.5 0zM216.6 373.4a4.3 4.3 0 1 0 8.5 0a4.3 4.3 0 1 0 -8.5 0zM217.8 373.1a4.3 4.3 0 1 0 8.5 0a4.3 4.3 0 1 0 -8.5 0zM219.1 372.8a4.3 4.3 0 1 0 8.5 0a4.3 4.3 0 1 0 -8.5 0zM220.4 372.6a4.3 4.3 0 1 0 8.5 0a4.3 4.3 0 1 0 -8.5 0zM221.7 372.2a4.3 4.3 0 1 0 8.5 0a4.3 4.3 0 1 0 -8.5 0zM223.0 371.9a4.3 4.3 0 1 0 8.5 0a4.3 4.3 0 1 0 -8.5 0zM224.4 371.6a4.3 4.3 0 1 0 8.5 0a4.3 4.3 0 1 0 -8.5 0zM225.8 371.3a4.3 4.3 0 1 0 8.5 0a4.3 4.3 0 1 0 -8.5 0zM227.2 371.0a4.3 4.3 0 1 0 8.5 0a4.3 4.3 0 1 0 -8.5 0zM228.6 370.6a4.3 4.3 0 1 0 8.5 0a4.3 4.3 0 1 0 -8.5 0zM230.0 370.3a4.3 4.3 0 1 0 8.5 0a4.3 4.3 0 1 0 -8.5 0zM231.5 370.0a4.3 4.3 0 1 0 8.5 0a4.3 4.3 0 1 0 -8.5 0zM233.0 369.6a4.3 4.3 0 1 0 8.5 0a4.3 4.3 0 1 0 -8.5 0zM234.5 369.2a4.3 4.3 0 1 0 8.5 0a4.3 4.3 0 1 0 -8.5 0zM236.0 368.9a4.3 4.3 0 1 0 8.5 0a4.3 4.3 0 1 0 -8.5 0zM237.6 368.5a4.3 4.3 0 1 0 8.5 0a4.3 4.3 0 1 0 -8.5 0zM239.2 368.1a4.3 4.3 0 1 0 8.5 0a4.3 4.3 0 1 0 -8.5 0zM240.8 367.7a4.3 4.3 0 1 0 8.5 0a4.3 4.3 0 1 0 -8.5 0zM242.4 367.3a4.3 4.3 0 1 0 8.5 0a4.3 4.3 0 1 0 -8.5 0zM244.1 366.9a4.3 4.3 0 1 0 8.5 0a4.3 4.3 0 1 0 -8.5 0zM245.8 366.5a4.3 4.3 0 1 0 8.5 0a4.3 4.3 0 1 0 -8.5 0zM247.5 366.0a4.3 4.3 0 1 0 8.5 0a4.3 4.3 0 1 0 -8.5 0zM249.3 365.6a4.3 4.3 0 1 0 8.5 0a4.3 4.3 0 1 0 -8.5 0zM251.1 365.2a4.3 4.3 0 1 0 8.5 0a4.3 4.3 0 1 0 -8.5 0zM252.9 364.7a4.3 4.3 0 1 0 8.5 0a4.3 4.3 0 1 0 -8.5 0zM254.7 364.2a4.3 4.3 0 1 0 8.5 0a4.3 4.3 0 1 0 -8.5 0zM256.6 363.7a4.3 4.3 0 1 0 8.5 0a4.3 4.3 0 1 0 -8.5 0zM258.6 363.3a4.3 4.3 0 1 0 8.5 0a4.3 4.3 0 1 0 -8.5 0zM260.5 362.8a4.3 4.3 0 1 0 8.5 0a4.3 4.3 0 1 0 -8.5 0zM262.5 362.2a4.3 4.3 0 1 0 8.5 0a4.3 4.3 0 1 0 -8.5 0zM263.5 362.0a4.3 4.3 0 1 0 8.5 0a4.3 4.3 0 1 0 -8.5 0zM264.5 361.7a4.3 4.3 0 1 0 8.5 0a4.3 4.3 0 1 0 -8.5 0zM265.6 361.5a4.3 4.3 0 1 0 8.5 0a4.3 4.3 0 1 0 -8.5 0zM266.6 361.2a4.3 4.3 0 1 0 8.5 0a4.3 4.3 0 1 0 -8.5 0zM267.7 360.9a4.3 4.3 0 1 0 8.5 0a4.3 4.3 0 1 0 -8.5 0zM268.7 360.6a4.3 4.3 0 1 0 8.5 0a4.3 4.3 0 1 0 -8.5 0zM269.8 360.4a4.3 4.3 0 1 0 8.5 0a4.3 4.3 0 1 0 -8.5 0zM270.9 360.1a4.3 4.3 0 1 0 8.5 0a4.3 4.3 0 1 0 -8.5 0zM272.0 359.8a4.3 4.3 0 1 0 8.5 0a4.3 4.3 0 1 0 -8.5 0zM273.1 359.5a4.3 4.3 0 1 0 8.5 0a4.3 4.3 0 1 0 -8.5 0zM274.2 359.2a4.3 4.3 0 1 0 8.5 0a4.3 4.3 0 1 0 -8.5 0zM275.3 358.9a4.3 4.3 0 1 0 8.5 0a4.3 4.3 0 1 0 -8.5 0zM276.4 358.6a4.3 4.3 0 1 0 8.5 0a4.3 4.3 0 1 0 -8.5 0zM277.6 358.3a4.3 4.3 0 1 0 8.5 0a4.3 4.3 0 1 0 -8.5 0zM278.7 358.0a4.3 4.3 0 1 0 8.5 0a4.3 4.3 0 1 0 -8.5 0zM279.9 357.7a4.3 4.3 0 1 0 8.5 0a4.3 4.3 0 1 0 -8.5 0zM281.1 357.4a4.3 4.3 0 1 0 8.5 0a4.3 4.3 0 1 0 -8.5 0zM282.3 357.0a4.3 4.3 0 1 0 8.5 0a4.3 4.3 0 1 0 -8.5 0zM283.5 356.7a4.3 4.3 0 1 0 8.5 0a4.3 4.3 0 1 0 -8.5 0zM284.7 356.4a4.3 4.3 0 1 0 8.5 0a4.3 4.3 0 1 0 -8.5 0zM285.9 356.1a4.3 4.3 0 1 0 8.5 0a4.3 4.3 0 1 0 -8.5 0zM287.2 355.7a4.3 4.3 0 1 0 8.5 0a4.3 4.3 0 1 0 -8.5 0zM288.4 355.4a4.3 4.3 0 1 0 8.5 0a4.3 4.3 0 1 0 -8.5 0zM289.7 355.0a4.3 4.3 0 1 0 8.5 0a4.3 4.3 0 1 0 -8.5 0zM291.0 354.7a4.3 4.3 0 1 0 8.5 0a4.3 4.3 0 1 0 -8.5 0zM292.3 354.3a4.3 4.3 0 1 0 8.5 0a4.3 4.3 0 1 0 -8.5 0zM293.6 354.0a4.3 4.3 0 1 0 8.5 0a4.3 4.3 0 1 0 -8.5 0zM294.9 353.6a4.3 4.3 0 1 0 8.5 0a4.3 4.3 0 1 0 -8.5 0zM296.2 353.2a4.3 4.3 0 1 0 8.5 0a4.3 4.3 0 1 0 -8.5 0zM297.6 352.8a4.3 4.3 0 1 0 8.5 0a4.3 4.3 0 1 0 -8.5 0zM298.9 352.4a4.3 4.3 0 1 0 8.5 0a4.3 4.3 0 1 0 -8.5 0zM300.3 351.9a4.3 4.3 0 1 0 8.5 0a4.3 4.3 0 1 0 -8.5 0zM301.7 351.5a4.3 4.3 0 1 0 8.5 0a4.3 4.3 0 1 0 -8.5 0zM303.1 351.0a4.3 4.3 0 1 0 8.5 0a4.3 4.3 0 1 0 -8.5 0zM304.6 350.6a4.3 4.3 0 1 0 8.5 0a4.3 4.3 0 1 0 -8.5 0zM306.0 350.1a4.3 4.3 0 1 0 8.5 0a4.3 4.3 0 1 0 -8.5 0zM307.5 349.6a4.3 4.3 0 1 0 8.5 0a4.3 4.3 0 1 0 -8.5 0zM308.9 349.0a4.3 4.3 0 1 0 8.5 0a4.3 4.3 0 1 0 -8.5 0zM310.4 348.5a4.3 4.3 0 1 0 8.5 0a4.3 4.3 0 1 0 -8.5 0zM311.9 347.9a4.3 4.3 0 1 0 8.5 0a4.3 4.3 0 1 0 -8.5 0zM313.5 347.3a4.3 4.3 0 1 0 8.5 0a4.3 4.3 0 1 0 -8.5 0zM315.0 346.6a4.3 4.3 0 1 0 8.5 0a4.3 4.3 0 1 0 -8.5 0zM316.6 346.1a4.3 4.3 0 1 0 8.5 0a4.3 4.3 0 1 0 -8.5 0zM318.2 345.5a4.3 4.3 0 1 0 8.5 0a4.3 4.3 0 1 0 -8.5 0zM319.8 344.9a4.3 4.3 0 1 0 8.5 0a4.3 4.3 0 1 0 -8.5 0zM321.4 344.5a4.3 4.3 0 1 0 8.5 0a4.3 4.3 0 1 0 -8.5 0zM323.0 344.0a4.3 4.3 0 1 0 8.5 0a4.3 4.3 0 1 0 -8.5 0zM324.7 343.7a4.3 4.3 0 1 0 8.5 0a4.3 4.3 0 1 0 -8.5 0zM326.3 343.3a4.3 4.3 0 1 0 8.5 0a4.3 4.3 0 1 0 -8.5 0zM328.0 343.1a4.3 4.3 0 1 0 8.5 0a4.3 4.3 0 1 0 -8.5 0zM329.8 342.8a4.3 4.3 0 1 0 8.5 0a4.3 4.3 0 1 0 -8.5 0zM331.5 342.6a4.3 4.3 0 1 0 8.5 0a4.3 4.3 0 1 0 -8.5 0zM333.3 342.3a4.3 4.3 0 1 0 8.5 0a4.3 4.3 0 1 0 -8.5 0zM335.0 342.1a4.3 4.3 0 1 0 8.5 0a4.3 4.3 0 1 0 -8.5 0zM336.9 341.8a4.3 4.3 0 1 0 8.5 0a4.3 4.3 0 1 0 -8.5 0zM338.7 341.6a4.3 4.3 0 1 0 8.5 0a4.3 4.3 0 1 0 -8.5 0zM340.5 341.3a4.3 4.3 0 1 0 8.5 0a4.3 4.3 0 1 0 -8.5 0zM342.4 341.0a4.3 4.3 0 1 0 8.5 0a4.3 4.3 0 1 0 -8.5 0zM344.3 340.7a4.3 4.3 0 1 0 8.5 0a4.3 4.3 0 1 0 -8.5 0zM346.2 340.3a4.3 4.3 0 1 0 8.5 0a4.3 4.3 0 1 0 -8.5 0zM348.2 340.0a4.3 4.3 0 1 0 8.5 0a4.3 4.3 0 1 0 -8.5 0zM350.1 339.6a4.3 4.3 0 1 0 8.5 0a4.3 4.3 0 1 0 -8.5 0zM352.1 339.2a4.3 4.3 0 1 0 8.5 0a4.3 4.3 0 1 0 -8.5 0zM354.2 338.8a4.3 4.3 0 1 0 8.5 0a4.3 4.3 0 1 0 -8.5 0zM356.2 338.4a4.3 4.3 0 1 0 8.5 0a4.3 4.3 0 1 0 -8.5 0zM358.3 338.0a4.3 4.3 0 1 0 8.5 0a4.3 4.3 0 1 0 -8.5 0zM360.4 337.5a4.3 4.3 0 1 0 8.5 0a4.3 4.3 0 1 0 -8.5 0zM362.6 337.1a4.3 4.3 0 1 0 8.5 0a4.3 4.3 0 1 0 -8.5 0zM364.7 336.6a4.3 4.3 0 1 0 8.5 0a4.3 4.3 0 1 0 -8.5 0zM366.9 336.1a4.3 4.3 0 1 0 8.5 0a4.3 4.3 0 1 0 -8.5 0zM369.1 335.5a4.3 4.3 0 1 0 8.5 0a4.3 4.3 0 1 0 -8.5 0zM371.4 335.0a4.3 4.3 0 1 0 8.5 0a4.3 4.3 0 1 0 -8.5 0zM373.7 334.4a4.3 4.3 0 1 0 8.5 0a4.3 4.3 0 1 0 -8.5 0zM376.0 333.7a4.3 4.3 0 1 0 8.5 0a4.3 4.3 0 1 0 -8.5 0zM378.4 333.1a4.3 4.3 0 1 0 8.5 0a4.3 4.3 0 1 0 -8.5 0zM380.8 332.4a4.3 4.3 0 1 0 8.5 0a4.3 4.3 0 1 0 -8.5 0zM383.2 331.6a4.3 4.3 0 1 0 8.5 0a4.3 4.3 0 1 0 -8.5 0zM385.6 330.9a4.3 4.3 0 1 0 8.5 0a4.3 4.3 0 1 0 -8.5 0zM388.1 330.1a4.3 4.3 0 1 0 8.5 0a4.3 4.3 0 1 0 -8.5 0zM390.7 329.2a4.3 4.3 0 1 0 8.5 0a4.3 4.3 0 1 0 -8.5 0zM393.2 328.3a4.3 4.3 0 1 0 8.5 0a4.3 4.3 0 1 0 -8.5 0zM395.8 327.3a4.3 4.3 0 1 0 8.5 0a4.3 4.3 0 1 0 -8.5 0zM398.5 326.3a4.3 4.3 0 1 0 8.5 0a4.3 4.3 0 1 0 -8.5 0zM401.2 325.3a4.3 4.3 0 1 0 8.5 0a4.3 4.3 0 1 0 -8.5 0zM403.9 324.2a4.3 4.3 0 1 0 8.5 0a4.3 4.3 0 1 0 -8.5 0zM406.7 323.0a4.3 4.3 0 1 0 8.5 0a4.3 4.3 0 1 0 -8.5 0zM409.5 321.9a4.3 4.3 0 1 0 8.5 0a4.3 4.3 0 1 0 -8.5 0zM412.4 320.8a4.3 4.3 0 1 0 8.5 0a4.3 4.3 0 1 0 -8.5 0zM415.3 319.6a4.3 4.3 0 1 0 8.5 0a4.3 4.3 0 1 0 -8.5 0zM418.2 318.5a4.3 4.3 0 1 0 8.5 0a4.3 4.3 0 1 0 -8.5 0zM421.2 317.4a4.3 4.3 0 1 0 8.5 0a4.3 4.3 0 1 0 -8.5 0zM424.3 316.4a4.3 4.3 0 1 0 8.5 0a4.3 4.3 0 1 0 -8.5 0zM427.4 315.5a4.3 4.3 0 1 0 8.5 0a4.3 4.3 0 1 0 -8.5 0zM430.5 314.6a4.3 4.3 0 1 0 8.5 0a4.3 4.3 0 1 0 -8.5 0zM433.7 313.9a4.3 4.3 0 1 0 8.5 0a4.3 4.3 0 1 0 -8.5 0zM437.0 313.3a4.3 4.3 0 1 0 8.5 0a4.3 4.3 0 1 0 -8.5 0zM440.3 312.8a4.3 4.3 0 1 0 8.5 0a4.3 4.3 0 1 0 -8.5 0zM443.7 312.4a4.3 4.3 0 1 0 8.5 0a4.3 4.3 0 1 0 -8.5 0zM447.1 312.1a4.3 4.3 0 1 0 8.5 0a4.3 4.3 0 1 0 -8.5 0zM450.6 311.9a4.3 4.3 0 1 0 8.5 0a4.3 4.3 0 1 0 -8.5 0zM454.1 311.7a4.3 4.3 0 1 0 8.5 0a4.3 4.3 0 1 0 -8.5 0zM457.7 311.4a4.3 4.3 0 1 0 8.5 0a4.3 4.3 0 1 0 -8.5 0zM461.4 311.0a4.3 4.3 0 1 0 8.5 0a4.3 4.3 0 1 0 -8.5 0zM465.1 310.4a4.3 4.3 0 1 0 8.5 0a4.3 4.3 0 1 0 -8.5 0zM469.0 309.6a4.3 4.3 0 1 0 8.5 0a4.3 4.3 0 1 0 -8.5 0zM472.8 308.6a4.3 4.3 0 1 0 8.5 0a4.3 4.3 0 1 0 -8.5 0zM476.8 307.1a4.3 4.3 0 1 0 8.5 0a4.3 4.3 0 1 0 -8.5 0zM480.8 305.2a4.3 4.3 0 1 0 8.5 0a4.3 4.3 0 1 0 -8.5 0zM484.9 301.0a4.3 4.3 0 1 0 8.5 0a4.3 4.3 0 1 0 -8.5 0zM489.1 295.2a4.3 4.3 0 1 0 8.5 0a4.3 4.3 0 1 0 -8.5 0zM493.3 288.3a4.3 4.3 0 1 0 8.5 0a4.3 4.3 0 1 0 -8.5 0zM497.7 280.6a4.3 4.3 0 1 0 8.5 0a4.3 4.3 0 1 0 -8.5 0zM502.1 269.0a4.3 4.3 0 1 0 8.5 0a4.3 4.3 0 1 0 -8.5 0zM506.6 257.1a4.3 4.3 0 1 0 8.5 0a4.3 4.3 0 1 0 -8.5 0zM511.2 244.3a4.3 4.3 0 1 0 8.5 0a4.3 4.3 0 1 0 -8.5 0zM515.9 230.2a4.3 4.3 0 1 0 8.5 0a4.3 4.3 0 1 0 -8.5 0zM520.7 212.8a4.3 4.3 0 1 0 8.5 0a4.3 4.3 0 1 0 -8.5 0zM525.6 191.1a4.3 4.3 0 1 0 8.5 0a4.3 4.3 0 1 0 -8.5 0zM530.6 160.3a4.3 4.3 0 1 0 8.5 0a4.3 4.3 0 1 0 -8.5 0z" fill="#F53F3F"/>
<path d="M88.0 389.3L88.6 389.2L89.2 388.9L89.8 388.6L90.4 388.4L91.1 388.3L91.7 388.3L92.3 388.5L92.9 388.7L93.6 389.1L94.2 389.5L94.8 390.1L95.4 390.6L96.0 391.1L96.7 391.4L97.3 391.5L97.9 391.5L98.5 391.4L99.1 391.1L99.8 390.9L100.4 390.6L101.0 390.4L101.7 390.3L102.3 390.1L102.9 390.0L103.6 389.9L104.2 389.8L104.8 389.6L105.5 389.5L106.1 389.4L106.7 389.3L107.3 389.2L108.0 389.1L108.6 389.0L109.3 388.9L109.9 388.7L110.5 388.6L111.1 388.5L111.8 388.4L112.4 388.3L113.1 388.2L113.8 388.2L114.4 388.1L115.0 388.1L115.6 388.0L116.3 387.9L116.9 387.9L117.6 387.8L118.3 387.7L119.0 387.7L119.6 387.6L120.2 387.5L120.8 387.4L121.5 387.3L122.1 387.2L122.8 387.1L123.5 387.0L124.2 386.9L124.9 386.7L125.6 386.5L126.2 386.4L126.9 386.2L127.5 386.0L128.1 385.8L128.8 385.6L129.4 385.4L130.1 385.2L130.8 384.9L131.5 384.7L132.2 384.5L132.9 384.2L133.7 384.0L134.4 383.7L135.0 383.5L135.7 383.3L136.3 383.1L136.9 382.9L137.6 382.7L138.2 382.5L138.9 382.2L139.6 382.0L140.3 381.8L141.0 381.5L141.7 381.3L142.4 381.0L143.1 380.7L143.9 380.5L144.6 380.2L145.4 379.9L146.2 379.6L147.0 379.3L147.6 379.1L148.2 378.9L148.8 378.6L149.4 378.4L150.1 378.1L150.7 377.9L151.4 377.6L152.0 377.3L152.7 377.1L153.4 376.8L154.1 376.5L154.8 376.2L155.5 375.9L156.2 375.6L156.9 375.3L157.6 375.0L158.4 374.7L159.1 374.4L159.9 374.0L160.7 373.7L161.5 373.4L162.3 373.0L163.1 372.7L163.9 372.3L164.8 371.9L165.6 371.5L166.5 371.1L167.3 370.7L168.2 370.3L169.1 369.9L169.7 369.7L170.3 369.4L171.0 369.1L171.6 368.8L172.2 368.5L172.9 368.2L173.5 367.9L174.2 367.6L174.8 367.3L175.5 367.0L176.2 366.7L176.9 366.3L177.5 366.0L178.2 365.7L179.0 365.3L179.7 365.0L180.4 364.7L181.1 364.3L181.9 363.9L182.6 363.6L183.4 363.2L184.1 362.9L184.9 362.5L185.7 362.1L186.5 361.7L187.3 361.3L188.1 361.0L188.9 360.6L189.7 360.2L190.6 359.8L191.4 359.3L192.3 358.9L193.1 358.5L194.0 358.1L194.9 357.6L195.8 357.2L196.7 356.8L197.7 356.3L198.6 355.8L199.5 355.4L200.5 354.9L201.5 354.4L202.5 353.9L203.5 353.4L204.5 352.9L205.5 352.4L206.5 351.9L207.6 351.4L208.7 350.9L209.7 350.3L210.8 349.8L212.0 349.2L213.1 348.7L214.2 348.1L215.4 347.5L216.6 346.9L217.8 346.3L218.4 346.0L219.0 345.7L219.6 345.4L220.2 345.1L220.8 344.8L221.5 344.5L222.1 344.1L222.7 343.8L223.4 343.5L224.0 343.2L224.7 342.8L225.3 342.5L226.0 342.2L226.6 341.8L227.3 341.5L228.0 341.1L228.7 340.8L229.3 340.4L230.0 340.1L230.7 339.7L231.4 339.4L232.1 339.0L232.9 338.6L233.6 338.3L234.3 337.9L235.0 337.5L235.8 337.1L236.5 336.8L237.2 336.4L238.0 336.0L238.8 335.6L239.5 335.2L240.3 334.8L241.1 334.4L241.9 334.0L242.6 333.6L243.4 333.1L244.2 332.7L245.1 332.3L245.9 331.9L246.7 331.4L247.5 331.0L248.4 330.5L249.2 330.1L250.1 329.6L250.9 329.2L251.8 328.7L252.7 328.2L253.6 327.8L254.4 327.3L255.3 326.8L256.3 326.3L257.2 325.7L258.1 325.2L259.0 324.7L260.0 324.1L260.9 323.6L261.9 323.0L262.8 322.4L263.8 321.8L264.8 321.2L265.8 320.6L266.8 320.0L267.8 319.3L268.8 318.7L269.8 318.0L270.9 317.3L271.9 316.5L273.0 315.8L274.1 315.0L275.1 314.2L276.2 313.4L277.3 312.6L278.4 311.7L279.6 310.9L280.7 310.0L281.8 309.1L283.0 308.2L284.2 307.3L285.3 306.3L286.5 305.4L287.7 304.4L289.0 303.5L290.2 302.6L291.4 301.6L292.7 300.7L294.0 299.8L295.2 298.8L296.5 297.9L297.8 297.0L299.2 296.1L300.5 295.2L301.9 294.3L303.2 293.5L304.6 292.6L306.0 291.7L307.4 290.9L308.8 290.1L310.3 289.2L311.7 288.4L313.2 287.7L314.7 286.9L316.2 286.1L317.7 285.4L319.3 284.6L320.8 283.9L322.4 283.3L324.0 282.6L325.6 282.0L327.3 281.3L328.9 280.7L330.6 280.2L332.3 279.6L334.0 279.1L335.8 278.6L337.5 278.2L339.3 277.7L341.1 277.3L343.0 276.9L344.8 276.5L346.7 276.2L348.6 275.8L350.5 275.5L352.4 275.1L354.4 274.5L356.4 273.9L358.4 273.3L360.5 273.3L362.6 274.5L364.7 274.4L366.8 273.9L369.0 272.6L371.2 271.2L373.4 270.5L375.7 270.0L378.0 269.6L380.3 269.1L382.6 268.6L385.0 268.0L387.5 267.5L389.9 266.9L392.4 266.3L394.9 265.6L397.5 265.0L400.1 264.3L402.8 263.6L405.5 262.9L408.2 262.2L411.0 261.4L413.8 260.6L416.6 259.8L419.5 259.0L422.5 258.2L425.5 257.3L428.5 256.5L431.6 255.6L434.8 254.7L438.0 253.8L441.3 252.8L444.6 251.9L447.9 250.9L451.4 250.0L454.8 249.0L458.4 248.0L462.0 247.0L465.7 246.0L469.4 245.0L473.2 244.0L477.1 243.0L481.1 242.0L485.1 241.1L489.2 239.0L493.4 235.1L497.6 229.8L502.0 222.8L506.4 214.8L510.9 204.8L515.5 194.8L520.2 180.2L525.0 159.6L529.9 148.7L534.9 132.6" fill="none" stroke="#1A6FE0" stroke-width="3.0" stroke-linejoin="round"/>
<path d="M88.0 384.4L93.8 393.5H82.2zM89.0 384.1L94.8 393.2H83.3zM90.0 383.6L95.8 392.7H84.3zM91.1 383.4L96.8 392.5H85.3zM92.1 383.5L97.8 392.6H86.3zM93.1 383.9L98.9 393.0H87.4zM94.2 384.6L99.9 393.7H88.4zM95.2 385.5L100.9 394.5H89.4zM96.2 386.3L101.9 395.3H90.4zM97.2 386.6L102.9 395.7H91.4zM98.2 386.6L103.9 395.6H92.4zM99.2 386.2L105.0 395.2H93.5zM100.3 385.8L106.0 394.8H94.5zM101.3 385.5L107.1 394.5H95.6zM102.3 385.2L108.1 394.3H96.6zM103.3 385.0L109.1 394.1H97.6zM104.4 384.8L110.1 393.9H98.6zM105.4 384.7L111.1 393.7H99.6zM106.5 384.5L112.2 393.5H100.7zM107.5 384.3L113.2 393.3H101.7zM108.6 384.1L114.3 393.2H102.8zM109.6 383.9L115.3 392.9H103.8zM110.7 383.7L116.4 392.7H104.9zM111.7 383.5L117.4 392.6H105.9zM112.7 383.4L118.5 392.4H107.0zM113.8 383.3L119.5 392.3H108.0zM114.8 383.2L120.6 392.2H109.1zM115.9 383.1L121.7 392.1H110.2zM116.9 383.0L122.7 392.0H111.2zM118.0 382.9L123.7 391.9H112.2zM119.1 382.8L124.8 391.8H113.3zM120.1 382.6L125.9 391.7H114.4zM121.2 382.5L126.9 391.5H115.4zM122.3 382.3L128.0 391.4H116.5zM123.3 382.2L129.0 391.2H117.5zM124.3 381.9L130.1 391.0H118.6zM125.4 381.7L131.1 390.7H119.6zM126.5 381.4L132.2 390.4H120.7zM127.5 381.1L133.2 390.1H121.7zM128.5 380.8L134.3 389.8H122.8zM129.6 380.5L135.3 389.5H123.8zM130.7 380.1L136.4 389.1H124.9zM131.8 379.7L137.5 388.8H126.0zM132.8 379.4L138.6 388.4H127.1zM133.8 379.0L139.6 388.1H128.1zM134.9 378.7L140.6 387.7H129.1zM136.0 378.3L141.7 387.3H130.2zM137.1 377.9L142.8 387.0H131.3zM138.2 377.6L144.0 386.6H132.5zM139.2 377.2L145.0 386.3H133.5zM140.3 376.9L146.0 385.9H134.5zM141.3 376.5L147.1 385.5H135.6zM142.4 376.1L148.1 385.2H136.6zM143.5 375.7L149.2 384.8H137.8zM144.6 375.3L150.4 384.3H138.9zM145.8 374.9L151.5 383.9H140.0zM147.0 374.4L152.7 383.5H141.2zM148.0 374.0L153.7 383.1H142.2zM149.0 373.6L154.8 382.7H143.3zM150.1 373.2L155.8 382.3H144.3zM151.1 372.8L156.9 381.8H145.4zM152.3 372.4L158.0 381.4H146.5zM153.4 371.9L159.1 380.9H147.6zM154.5 371.4L160.3 380.5H148.8zM155.7 370.9L161.5 380.0H150.0zM156.9 370.4L162.7 379.5H151.2zM158.1 369.9L163.9 378.9H152.4zM159.1 369.5L164.9 378.5H153.4zM160.2 369.0L165.9 378.1H154.4zM161.2 368.6L167.0 377.6H155.5zM162.3 368.1L168.0 377.1H156.5zM163.4 367.6L169.1 376.7H157.6zM164.5 367.1L170.2 376.2H158.7zM165.6 366.6L171.3 375.7H159.8zM166.8 366.1L172.5 375.2H161.0zM167.9 365.6L173.7 374.6H162.2zM169.1 365.0L174.9 374.1H163.4zM170.3 364.5L176.1 373.5H164.6zM171.6 363.9L177.3 372.9H165.8zM172.9 363.3L178.6 372.3H167.1zM174.2 362.7L179.9 371.7H168.4zM175.5 362.1L181.2 371.1H169.8zM176.5 361.6L182.3 370.6H170.8zM177.5 361.1L183.3 370.1H171.8zM178.6 360.6L184.3 369.6H172.8zM179.7 360.1L185.4 369.1H173.9zM180.8 359.6L186.5 368.6H175.0zM181.9 359.1L187.6 368.1H176.1zM183.0 358.5L188.7 367.6H177.2zM184.1 358.0L189.9 367.0H178.4zM185.3 357.4L191.0 366.4H179.5zM186.5 356.8L192.2 365.9H180.7zM187.7 356.3L193.4 365.3H181.9zM188.9 355.7L194.6 364.7H183.1zM190.1 355.1L195.9 364.1H184.4zM191.4 354.5L197.2 363.5H185.7zM192.7 353.8L198.5 362.9H187.0zM194.0 353.2L199.8 362.2H188.3zM195.4 352.5L201.1 361.6H189.6zM196.7 351.9L202.5 360.9H191.0zM198.1 351.2L203.9 360.2H192.4zM199.5 350.5L205.3 359.5H193.8zM201.0 349.8L206.7 358.8H195.2zM202.5 349.1L208.2 358.1H196.7zM204.0 348.3L209.7 357.3H198.2zM205.0 347.8L210.7 356.8H199.2zM206.0 347.3L211.8 356.3H200.3zM207.1 346.8L212.8 355.8H201.3zM208.1 346.3L213.9 355.3H202.4zM209.2 345.7L215.0 354.7H203.5zM210.3 345.2L216.0 354.2H204.5zM211.4 344.6L217.1 353.7H205.6zM212.5 344.1L218.3 353.1H206.8zM213.7 343.5L219.4 352.5H207.9zM214.8 342.9L220.6 351.9H209.1zM216.0 342.3L221.7 351.4H210.2zM217.2 341.7L222.9 350.8H211.4zM218.4 341.1L224.1 350.2H212.6zM219.6 340.5L225.3 349.5H213.8zM220.8 339.9L226.6 348.9H215.1zM222.1 339.3L227.8 348.3H216.3zM223.4 338.6L229.1 347.6H217.6zM224.7 337.9L230.4 347.0H218.9zM226.0 337.3L231.7 346.3H220.2zM227.3 336.6L233.1 345.6H221.6zM228.7 335.9L234.4 344.9H222.9zM230.0 335.2L235.8 344.2H224.3zM231.4 334.5L237.2 343.5H225.7zM232.9 333.8L238.6 342.8H227.1zM234.3 333.0L240.0 342.0H228.5zM235.8 332.3L241.5 341.3H230.0zM237.2 331.5L243.0 340.5H231.5zM238.8 330.7L244.5 339.7H233.0zM240.3 329.9L246.0 338.9H234.5zM241.9 329.1L247.6 338.1H236.1zM243.4 328.3L249.2 337.3H237.7zM245.1 327.4L250.8 336.4H239.3zM246.7 326.5L252.5 335.6H241.0zM248.4 325.7L254.1 334.7H242.6zM250.1 324.7L255.8 333.8H244.3zM251.8 323.8L257.5 332.8H246.0zM253.6 322.9L259.3 331.9H247.8zM255.3 321.9L261.1 330.9H249.6zM257.2 320.9L262.9 329.9H251.4zM259.0 319.8L264.8 328.8H253.3zM260.9 318.7L266.7 327.7H255.2zM262.8 317.5L268.6 326.6H257.1zM264.8 316.3L270.5 325.4H259.0zM266.8 315.1L272.5 324.1H261.0zM267.8 314.4L273.5 323.5H262.0zM268.8 313.8L274.6 322.8H263.1zM269.8 313.1L275.6 322.1H264.1zM270.9 312.4L276.6 321.4H265.1zM271.9 311.6L277.7 320.7H266.2zM273.0 310.9L278.7 319.9H267.2zM274.1 310.1L279.8 319.2H268.3zM275.1 309.4L280.9 318.4H269.4zM276.2 308.5L282.0 317.6H270.5zM277.3 307.7L283.1 316.7H271.6zM278.4 306.9L284.2 315.9H272.7zM279.6 306.0L285.3 315.0H273.8zM280.7 305.1L286.4 314.1H274.9zM281.8 304.2L287.6 313.2H276.1zM283.0 303.3L288.8 312.3H277.2zM284.2 302.4L289.9 311.4H278.4zM285.3 301.4L291.1 310.5H279.6zM286.5 300.5L292.3 309.5H280.8zM287.7 299.6L293.5 308.6H282.0zM289.0 298.6L294.7 307.6H283.2zM290.2 297.7L295.9 306.7H284.4zM291.4 296.7L297.2 305.8H285.7zM292.7 295.8L298.4 304.8H286.9zM294.0 294.9L299.7 303.9H288.2zM295.2 294.0L301.0 303.0H289.5zM296.5 293.0L302.3 302.1H290.8zM297.8 292.1L303.6 301.2H292.1zM299.2 291.2L304.9 300.3H293.4zM300.5 290.3L306.2 299.4H294.8zM301.9 289.5L307.6 298.5H296.1zM303.2 288.6L309.0 297.6H297.5zM304.6 287.7L310.3 296.7H298.8zM306.0 286.9L311.7 295.9H300.2zM307.4 286.0L313.2 295.0H301.7zM308.8 285.2L314.6 294.2H303.1zM310.3 284.4L316.0 293.4H304.5zM311.7 283.6L317.5 292.6H306.0zM313.2 282.8L319.0 291.8H307.5zM314.7 282.0L320.5 291.0H309.0zM316.2 281.2L322.0 290.3H310.5zM317.7 280.5L323.5 289.5H312.0zM319.3 279.8L325.0 288.8H313.5zM320.8 279.1L326.6 288.1H315.1zM322.4 278.4L328.2 287.4H316.7zM324.0 277.7L329.8 286.7H318.3zM325.6 277.1L331.4 286.1H319.9zM327.3 276.4L333.0 285.5H321.5zM328.9 275.9L334.7 284.9H323.2zM330.6 275.3L336.4 284.3H324.9zM332.3 274.8L338.1 283.8H326.6zM334.0 274.2L339.8 283.3H328.3zM335.8 273.8L341.5 282.8H330.0zM337.5 273.3L343.3 282.3H331.8zM339.3 272.9L345.1 281.9H333.6zM341.1 272.4L346.9 281.5H335.4zM343.0 272.0L348.7 281.1H337.2zM344.8 271.7L350.6 280.7H339.1zM346.7 271.3L352.4 280.3H340.9zM348.6 271.0L354.3 280.0H342.8zM350.5 270.6L356.2 279.7H344.8zM352.4 270.2L358.2 279.3H346.7zM354.4 269.6L360.2 278.7H348.7zM356.4 269.0L362.2 278.0H350.7zM358.4 268.5L364.2 277.5H352.7zM360.5 268.4L366.3 277.4H354.8zM362.6 269.6L368.3 278.7H356.8zM364.7 269.6L370.4 278.6H358.9zM366.8 269.0L372.6 278.1H361.1zM369.0 267.7L374.7 276.8H363.2zM371.2 266.3L376.9 275.3H365.4zM373.4 265.6L379.2 274.6H367.7zM375.7 265.2L381.4 274.2H369.9zM378.0 264.7L383.7 273.8H372.2zM380.3 264.2L386.0 273.2H374.5zM382.6 263.7L388.4 272.7H376.9zM385.0 263.1L390.8 272.2H379.3zM387.5 262.6L393.2 271.6H381.7zM389.9 262.0L395.7 271.0H384.2zM392.4 261.4L398.2 270.4H386.7zM394.9 260.7L400.7 269.8H389.2zM397.5 260.1L403.3 269.1H391.8zM400.1 259.4L405.9 268.5H394.4zM402.8 258.7L408.5 267.8H397.0zM405.5 258.0L411.2 267.0H399.7zM408.2 257.3L413.9 266.3H402.4zM411.0 256.5L416.7 265.6H405.2zM413.8 255.8L419.5 264.8H408.0zM416.6 255.0L422.4 264.0H410.9zM419.5 254.1L425.3 263.2H413.8zM422.5 253.3L428.2 262.3H416.8zM425.5 252.5L431.2 261.5H419.8zM428.5 251.6L434.3 260.6H422.8zM431.6 250.7L437.4 259.7H425.9zM434.8 249.8L440.5 258.8H429.0zM438.0 248.9L443.8 257.9H432.2zM441.3 247.9L447.0 257.0H435.5zM444.6 247.0L450.3 256.0H438.8zM447.9 246.0L453.7 255.1H442.2zM451.4 245.1L457.1 254.1H445.6zM454.8 244.1L460.6 253.1H449.1zM458.4 243.1L464.1 252.1H452.6zM462.0 242.1L467.8 251.1H456.3zM465.7 241.1L471.4 250.1H459.9zM469.4 240.1L475.2 249.1H463.7zM473.2 239.1L479.0 248.1H467.5zM477.1 238.1L482.9 247.1H471.4zM481.1 237.2L486.8 246.2H475.3zM485.1 236.2L490.8 245.3H479.3zM489.2 234.1L494.9 243.1H483.4zM493.4 230.2L499.1 239.2H487.6zM497.6 224.9L503.4 233.9H491.9zM502.0 218.0L507.7 227.0H496.2zM506.4 209.9L512.1 219.0H500.6zM510.9 200.0L516.6 209.0H505.1zM515.5 189.9L521.2 198.9H509.8zM520.2 175.4L525.9 184.4H514.4zM525.0 154.7L530.7 163.8H519.2zM529.9 143.9L535.6 152.9H524.1zM534.9 127.7L540.6 136.7H529.1z" fill="#1A6FE0"/>
<path d="M88.0 383.3L88.6 383.3L89.2 383.3L89.8 383.3L90.4 383.2L91.1 383.0L91.7 382.8L92.3 382.6L92.9 382.7L93.6 383.0L94.2 383.4L94.8 383.9L95.4 384.3L96.0 384.7L96.7 385.1L97.3 385.5L97.9 385.8L98.5 386.0L99.1 386.2L99.8 386.3L100.4 386.2L101.0 386.2L101.7 386.2L102.3 386.2L102.9 386.4L103.6 386.5L104.2 386.8L104.8 387.0L105.5 387.3L106.1 387.5L106.7 387.6L107.3 387.6L108.0 387.6L108.6 387.6L109.3 387.5L109.9 387.4L110.5 387.2L111.1 387.0L111.8 386.8L112.4 386.6L113.1 386.4L113.8 386.2L114.4 386.0L115.0 385.8L115.6 385.7L116.3 385.4L116.9 385.2L117.6 385.0L118.3 384.7L119.0 384.3L119.6 384.0L120.2 383.6L120.8 383.2L121.5 382.8L122.1 382.4L122.8 381.9L123.5 381.5L124.2 381.0L124.9 380.6L125.6 380.2L126.2 379.8L126.9 379.4L127.5 379.0L128.1 378.6L128.8 378.1L129.4 377.7L130.1 377.2L130.8 376.7L131.5 376.2L132.2 375.8L132.9 375.3L133.7 374.8L134.4 374.3L135.0 373.9L135.7 373.5L136.3 373.0L136.9 372.6L137.6 372.2L138.2 371.8L138.9 371.3L139.6 370.9L140.3 370.4L141.0 369.9L141.7 369.4L142.4 369.0L143.1 368.5L143.9 368.0L144.6 367.4L145.4 366.9L146.2 366.4L147.0 365.8L147.6 365.4L148.2 365.0L148.8 364.6L149.4 364.1L150.1 363.7L150.7 363.2L151.4 362.8L152.0 362.3L152.7 361.8L153.4 361.3L154.1 360.9L154.8 360.4L155.5 359.8L156.2 359.3L156.9 358.8L157.6 358.3L158.4 357.7L159.1 357.2L159.9 356.6L160.7 356.0L161.5 355.5L162.3 354.9L163.1 354.2L163.9 353.6L164.8 353.0L165.6 352.4L166.5 351.7L167.3 351.0L168.2 350.4L169.1 349.7L169.7 349.2L170.3 348.7L171.0 348.2L171.6 347.7L172.2 347.2L172.9 346.7L173.5 346.2L174.2 345.7L174.8 345.2L175.5 344.6L176.2 344.1L176.9 343.6L177.5 343.0L178.2 342.4L179.0 341.8L179.7 341.3L180.4 340.7L181.1 340.1L181.9 339.5L182.6 338.8L183.4 338.2L184.1 337.6L184.9 336.9L185.7 336.2L186.5 335.6L187.3 334.9L188.1 334.2L188.9 333.5L189.7 332.7L190.6 332.0L191.4 331.3L192.3 330.5L193.1 329.7L194.0 328.9L194.9 328.1L195.8 327.3L196.7 326.5L197.7 325.6L198.6 324.8L199.5 323.9L200.5 323.0L201.5 322.0L202.5 321.1L203.5 320.1L204.5 319.2L205.5 318.2L206.5 317.1L207.6 316.1L208.7 315.0L209.7 313.9L210.8 312.8L212.0 311.7L213.1 310.5L214.2 309.3L214.8 308.7L215.4 308.1L216.0 307.5L216.6 306.8L217.2 306.2L217.8 305.5L218.4 304.9L219.0 304.2L219.6 303.5L220.2 302.8L220.8 302.2L221.5 301.5L222.1 300.8L222.7 300.1L223.4 299.4L224.0 298.7L224.7 298.0L225.3 297.2L226.0 296.5L226.6 295.8L227.3 295.0L228.0 294.2L228.7 293.5L229.3 292.7L230.0 291.9L230.7 291.1L231.4 290.3L232.1 289.5L232.9 288.6L233.6 287.8L234.3 286.9L235.0 286.1L235.8 285.2L236.5 284.3L237.2 283.3L238.0 282.4L238.8 281.5L239.5 280.5L240.3 279.5L241.1 278.5L241.9 277.5L242.6 276.5L243.4 275.4L244.2 274.4L245.1 273.3L245.9 272.2L246.7 271.1L247.5 269.9L248.4 268.8L249.2 267.6L250.1 266.4L250.9 265.1L251.8 263.9L252.7 262.6L253.6 261.3L254.4 259.9L255.3 258.5L256.3 256.9L257.2 255.4L258.1 253.8L259.0 252.1L260.0 250.4L260.9 248.7L261.9 247.0L262.8 245.1L263.8 243.3L264.8 241.3L265.8 239.3L266.8 237.3L267.8 235.1L268.8 232.8L269.8 230.6L270.9 228.9L271.9 227.5L273.0 225.3L274.1 222.0L275.1 215.5L276.2 209.0L277.3 201.5L279.6 160.0L280.7 159.4L281.8 158.8L283.0 158.2L284.2 157.6L285.3 156.9L286.5 156.3L287.7 155.7L289.0 155.1L290.2 154.4L291.4 153.8L292.7 153.1L294.0 152.4L295.2 151.8L296.5 151.1L297.8 150.4L299.2 149.7L300.5 149.0L301.9 148.3L303.2 147.6L304.6 146.9L306.0 146.1L307.4 145.4L308.8 144.7L310.3 143.9L311.7 143.1L313.2 142.4L314.7 141.6L316.2 140.8L317.7 140.0L319.3 139.2L320.8 138.4L322.4 137.6L324.0 136.8L325.6 135.9L327.3 135.1L328.9 134.3L330.6 133.4L332.3 132.6L334.0 131.7L335.8 130.8L337.5 129.9L339.3 129.0L341.1 128.1L343.0 127.2L344.8 126.3L346.7 125.3L348.6 124.4L350.5 123.5L352.4 122.5L354.4 121.5L356.4 120.5L358.4 119.6L360.5 118.6L362.6 117.5L364.7 116.5L366.8 115.5L369.0 114.4L371.2 113.4L373.4 112.3L375.7 111.3L378.0 110.2L380.3 109.1L382.6 108.1L385.0 107.0L387.5 106.0L389.9 104.9L392.4 103.8L394.9 102.7L397.5 101.6L400.1 100.5L402.8 99.4L405.5 98.3L408.2 97.1L411.0 96.0L413.8 94.8L416.6 93.6L419.5 92.4L422.5 91.2L425.5 90.0L428.5 88.8L431.6 87.5L434.8 86.3L438.0 85.0L441.3 83.7L444.6 82.4L447.9 81.1L451.4 79.8L454.8 78.4L458.4 77.1L462.0 75.7L465.7 74.3L469.4 72.9L473.2 71.5L477.1 70.0L481.1 68.5L485.1 67.0L489.2 65.4L493.4 63.8L497.6 62.1L502.0 60.4L506.4 58.8L510.9 57.1L515.5 55.4L520.2 53.6L525.0 51.9L529.9 50.1L534.9 48.3" fill="none" stroke="#25A866" stroke-width="3.0" stroke-linejoin="round"/>
<path d="M88.0 388.8L93.5 378.9H82.5zM89.0 388.8L94.5 378.9H83.5zM90.0 388.8L95.5 378.9H84.5zM91.1 388.5L96.6 378.6H85.6zM92.1 388.2L97.6 378.3H86.6zM93.1 388.3L98.6 378.4H87.6zM94.2 388.9L99.7 379.0H88.7zM95.2 389.6L100.7 379.7H89.7zM96.2 390.3L101.7 380.4H90.7zM97.2 390.9L102.7 381.0H91.7zM98.2 391.4L103.7 381.5H92.7zM99.2 391.7L104.7 381.8H93.7zM100.3 391.7L105.8 381.8H94.8zM101.3 391.7L106.8 381.8H95.8zM102.3 391.7L107.8 381.8H96.8zM103.3 392.0L108.8 382.1H97.8zM104.4 392.4L109.9 382.5H98.9zM105.4 392.7L110.9 382.8H99.9zM106.5 393.0L112.0 383.1H101.0zM107.5 393.1L113.0 383.2H102.0zM108.6 393.1L114.1 383.2H103.1zM109.6 392.9L115.1 383.0H104.1zM110.7 392.7L116.2 382.8H105.2zM111.7 392.4L117.2 382.5H106.2zM112.7 392.0L118.2 382.1H107.2zM113.8 391.7L119.3 381.8H108.3zM114.8 391.4L120.3 381.5H109.3zM115.9 391.1L121.4 381.2H110.4zM116.9 390.7L122.4 380.8H111.4zM118.0 390.3L123.5 380.4H112.5zM119.1 389.8L124.6 379.9H113.6zM120.1 389.2L125.6 379.3H114.6zM121.2 388.5L126.7 378.6H115.7zM122.3 387.8L127.8 377.9H116.8zM123.3 387.1L128.8 377.2H117.8zM124.3 386.5L129.8 376.6H118.8zM125.4 385.8L130.9 375.9H119.9zM126.5 385.1L132.0 375.2H121.0zM127.5 384.5L133.0 374.6H122.0zM128.5 383.8L134.0 373.9H123.0zM129.6 383.1L135.1 373.2H124.1zM130.7 382.3L136.2 372.4H125.2zM131.8 381.5L137.3 371.6H126.3zM132.8 380.9L138.3 371.0H127.3zM133.8 380.2L139.3 370.3H128.3zM134.9 379.5L140.4 369.6H129.4zM136.0 378.7L141.5 368.8H130.5zM137.1 378.0L142.6 368.1H131.6zM138.2 377.3L143.7 367.4H132.7zM139.2 376.6L144.7 366.7H133.7zM140.3 375.9L145.8 366.0H134.8zM141.3 375.2L146.8 365.3H135.8zM142.4 374.5L147.9 364.6H136.9zM143.5 373.7L149.0 363.8H138.0zM144.6 372.9L150.1 363.0H139.1zM145.8 372.2L151.3 362.3H140.3zM147.0 371.3L152.5 361.4H141.5zM148.0 370.6L153.5 360.7H142.5zM149.0 369.9L154.5 360.0H143.5zM150.1 369.2L155.6 359.3H144.6zM151.1 368.4L156.6 358.5H145.6zM152.3 367.6L157.8 357.7H146.8zM153.4 366.8L158.9 356.9H147.9zM154.5 366.0L160.0 356.1H149.0zM155.7 365.2L161.2 355.3H150.2zM156.9 364.3L162.4 354.4H151.4zM158.1 363.4L163.6 353.5H152.6zM159.1 362.7L164.6 352.8H153.6zM160.2 361.9L165.7 352.0H154.7zM161.2 361.1L166.7 351.2H155.7zM162.3 360.4L167.8 350.5H156.8zM163.4 359.5L168.9 349.6H157.9zM164.5 358.7L170.0 348.8H159.0zM165.6 357.9L171.1 348.0H160.1zM166.8 357.0L172.2 347.1H161.2zM167.9 356.1L173.4 346.2H162.4zM169.1 355.2L174.6 345.3H163.6zM170.3 354.2L175.8 344.3H164.8zM171.6 353.2L177.1 343.3H166.1zM172.9 352.2L178.4 342.3H167.4zM174.2 351.2L179.7 341.3H168.7zM175.5 350.1L181.0 340.2H170.0zM176.5 349.3L182.0 339.4H171.0zM177.5 348.5L183.0 338.6H172.0zM178.6 347.6L184.1 337.7H173.1zM179.7 346.8L185.2 336.9H174.2zM180.8 345.9L186.3 336.0H175.3zM181.9 345.0L187.4 335.1H176.4zM183.0 344.0L188.5 334.1H177.5zM184.1 343.1L189.6 333.2H178.6zM185.3 342.1L190.8 332.2H179.8zM186.5 341.1L192.0 331.2H181.0zM187.7 340.0L193.2 330.1H182.2zM188.9 339.0L194.4 329.1H183.4zM190.1 337.9L195.6 328.0H184.6zM191.4 336.8L196.9 326.9H185.9zM192.7 335.6L198.2 325.7H187.2zM194.0 334.4L199.5 324.5H188.5zM195.4 333.2L200.9 323.3H189.9zM196.7 332.0L202.2 322.1H191.2zM198.1 330.7L203.6 320.8H192.6zM199.5 329.4L205.0 319.5H194.0zM201.0 328.0L206.5 318.1H195.5zM202.5 326.6L208.0 316.7H197.0zM204.0 325.2L209.5 315.3H198.5zM205.0 324.2L210.5 314.3H199.5zM206.0 323.2L211.5 313.3H200.5zM207.1 322.1L212.6 312.2H201.6zM208.1 321.1L213.6 311.2H202.6zM209.2 320.0L214.7 310.1H203.7zM210.3 318.9L215.8 309.0H204.8zM211.4 317.7L216.9 307.8H205.9zM212.5 316.6L218.0 306.7H207.0zM213.7 315.4L219.2 305.5H208.2zM214.8 314.2L220.3 304.3H209.3zM216.0 313.0L221.5 303.1H210.5zM217.2 311.7L222.7 301.8H211.7zM218.4 310.4L223.9 300.5H212.9zM219.6 309.0L225.1 299.1H214.1zM220.8 307.7L226.3 297.8H215.3zM222.1 306.3L227.6 296.4H216.6zM223.4 304.9L228.9 295.0H217.9zM224.7 303.5L230.2 293.6H219.2zM226.0 302.0L231.5 292.1H220.5zM227.3 300.5L232.8 290.6H221.8zM228.7 299.0L234.2 289.1H223.2zM230.0 297.4L235.5 287.5H224.5zM231.4 295.8L236.9 285.9H225.9zM232.9 294.1L238.4 284.2H227.4zM234.3 292.4L239.8 282.5H228.8zM235.8 290.7L241.3 280.8H230.3zM237.2 288.8L242.7 278.9H231.7zM238.8 287.0L244.3 277.1H233.3zM240.3 285.0L245.8 275.1H234.8zM241.9 283.0L247.4 273.1H236.4zM242.6 282.0L248.1 272.1H237.1zM243.4 280.9L248.9 271.0H237.9zM244.2 279.9L249.8 270.0H238.8zM245.1 278.8L250.6 268.9H239.6zM245.9 277.7L251.4 267.8H240.4zM246.7 276.6L252.2 266.7H241.2zM247.5 275.4L253.0 265.5H242.0zM248.4 274.3L253.9 264.4H242.9zM249.2 273.1L254.7 263.2H243.7zM250.1 271.9L255.6 262.0H244.6zM250.9 270.6L256.4 260.7H245.4zM251.8 269.4L257.3 259.5H246.3zM252.7 268.1L258.2 258.2H247.2zM253.6 266.8L259.1 256.9H248.1zM254.4 265.4L259.9 255.5H248.9zM255.3 264.0L260.8 254.1H249.8zM256.3 262.4L261.8 252.5H250.8zM257.2 260.9L262.7 251.0H251.7zM258.1 259.3L263.6 249.4H252.6zM259.0 257.6L264.5 247.7H253.5zM260.0 255.9L265.5 246.0H254.5zM260.9 254.2L266.4 244.3H255.4zM261.9 252.5L267.4 242.6H256.4zM262.8 250.6L268.3 240.7H257.3zM263.8 248.8L269.3 238.9H258.3zM264.8 246.8L270.3 236.9H259.3zM265.8 244.8L271.3 234.9H260.3zM266.8 242.8L272.3 232.9H261.3zM267.8 240.6L273.3 230.7H262.3zM268.8 238.3L274.3 228.4H263.3zM269.8 236.1L275.3 226.2H264.3zM270.9 234.4L276.4 224.5H265.4zM271.9 233.0L277.4 223.1H266.4zM273.0 230.8L278.5 220.9H267.5zM274.1 227.5L279.6 217.6H268.6zM275.1 221.0L280.6 211.1H269.6zM276.2 214.5L281.7 204.6H270.7zM277.3 207.0L282.8 197.1H271.8zM279.6 165.5L285.1 155.6H274.1zM280.7 164.9L286.2 155.0H275.2zM281.8 164.3L287.3 154.4H276.3zM283.0 163.7L288.5 153.8H277.5zM284.2 163.1L289.7 153.2H278.7zM285.3 162.4L290.8 152.5H279.8zM286.5 161.8L292.0 151.9H281.0zM287.7 161.2L293.2 151.3H282.2zM289.0 160.6L294.5 150.7H283.5zM290.2 159.9L295.7 150.0H284.7zM291.4 159.3L296.9 149.4H285.9zM292.7 158.6L298.2 148.7H287.2zM294.0 157.9L299.5 148.0H288.5zM295.2 157.3L300.7 147.4H289.7zM296.5 156.6L302.0 146.7H291.0zM297.8 155.9L303.3 146.0H292.3zM299.2 155.2L304.7 145.3H293.7zM300.5 154.5L306.0 144.6H295.0zM301.9 153.8L307.4 143.9H296.4zM303.2 153.1L308.7 143.2H297.7zM304.6 152.4L310.1 142.5H299.1zM306.0 151.6L311.5 141.7H300.5zM307.4 150.9L312.9 141.0H301.9zM308.8 150.2L314.3 140.3H303.3zM310.3 149.4L315.8 139.5H304.8zM311.7 148.6L317.2 138.7H306.2zM313.2 147.9L318.7 138.0H307.7zM314.7 147.1L320.2 137.2H309.2zM316.2 146.3L321.7 136.4H310.7zM317.7 145.5L323.2 135.6H312.2zM319.3 144.7L324.8 134.8H313.8zM320.8 143.9L326.3 134.0H315.3zM322.4 143.1L327.9 133.2H316.9zM324.0 142.3L329.5 132.4H318.5zM325.6 141.4L331.1 131.5H320.1zM327.3 140.6L332.8 130.7H321.8zM328.9 139.8L334.4 129.9H323.4zM330.6 138.9L336.1 129.0H325.1zM332.3 138.1L337.8 128.2H326.8zM334.0 137.2L339.5 127.3H328.5zM335.8 136.3L341.3 126.4H330.3zM337.5 135.4L343.0 125.5H332.0zM339.3 134.5L344.8 124.6H333.8zM341.1 133.6L346.6 123.7H335.6zM343.0 132.7L348.5 122.8H337.5zM344.8 131.8L350.3 121.9H339.3zM346.7 130.8L352.2 120.9H341.2zM348.6 129.9L354.1 120.0H343.1zM350.5 129.0L356.0 119.1H345.0zM352.4 128.0L357.9 118.1H346.9zM354.4 127.0L359.9 117.1H348.9zM356.4 126.0L361.9 116.1H350.9zM358.4 125.1L363.9 115.2H352.9zM360.5 124.1L366.0 114.2H355.0zM362.6 123.0L368.1 113.1H357.1zM364.7 122.0L370.2 112.1H359.2zM366.8 121.0L372.3 111.1H361.3zM369.0 119.9L374.5 110.0H363.5zM371.2 118.9L376.7 109.0H365.7zM373.4 117.8L378.9 107.9H367.9zM375.7 116.8L381.2 106.9H370.2zM378.0 115.7L383.5 105.8H372.5zM380.3 114.6L385.8 104.7H374.8zM382.6 113.6L388.1 103.7H377.1zM385.0 112.5L390.5 102.6H379.5zM387.5 111.5L393.0 101.6H382.0zM389.9 110.4L395.4 100.5H384.4zM392.4 109.3L397.9 99.4H386.9zM394.9 108.2L400.4 98.3H389.4zM397.5 107.1L403.0 97.2H392.0zM400.1 106.0L405.6 96.1H394.6zM402.8 104.9L408.3 95.0H397.3zM405.5 103.8L411.0 93.9H400.0zM408.2 102.6L413.7 92.7H402.7zM411.0 101.5L416.5 91.6H405.5zM413.8 100.3L419.3 90.4H408.3zM416.6 99.1L422.1 89.2H411.1zM419.5 97.9L425.0 88.0H414.0zM422.5 96.7L428.0 86.8H417.0zM425.5 95.5L431.0 85.6H420.0zM428.5 94.3L434.0 84.4H423.0zM431.6 93.0L437.1 83.1H426.1zM434.8 91.8L440.3 81.9H429.3zM438.0 90.5L443.5 80.6H432.5zM441.3 89.2L446.8 79.3H435.8zM444.6 87.9L450.1 78.0H439.1zM447.9 86.6L453.4 76.7H442.4zM451.4 85.3L456.9 75.4H445.9zM454.8 83.9L460.3 74.0H449.3zM458.4 82.6L463.9 72.7H452.9zM462.0 81.2L467.5 71.3H456.5zM465.7 79.8L471.2 69.9H460.2zM469.4 78.4L474.9 68.5H463.9zM473.2 77.0L478.7 67.1H467.7zM477.1 75.5L482.6 65.6H471.6zM481.1 74.0L486.6 64.1H475.6zM485.1 72.5L490.6 62.6H479.6zM489.2 70.9L494.7 61.0H483.7zM493.4 69.3L498.9 59.4H487.9zM497.6 67.6L503.1 57.7H492.1zM502.0 65.9L507.5 56.0H496.5zM506.4 64.3L511.9 54.4H500.9zM510.9 62.6L516.4 52.7H505.4zM515.5 60.9L521.0 51.0H510.0zM520.2 59.1L525.7 49.2H514.7zM525.0 57.4L530.5 47.5H519.5zM529.9 55.6L535.4 45.7H524.4zM534.9 53.8L540.4 43.9H529.4z" fill="#25A866"/>
<path d="M88.0 390.7L88.6 390.7L89.2 390.6L89.8 390.4L90.4 390.3L91.1 390.2L91.7 390.3L92.3 390.5L92.9 390.7L93.6 390.8L94.2 390.8L94.8 390.7L95.4 390.6L96.0 390.4L96.7 390.2L97.3 390.1L97.9 389.9L98.5 389.8L99.1 389.8L99.8 389.7L100.4 389.6L101.0 389.5L101.7 389.3L102.3 389.1L102.9 388.8L103.6 388.6L104.2 388.4L104.8 388.2L105.5 388.1L106.1 388.0L106.7 388.0L107.3 387.9L108.0 387.9L108.6 387.9L109.3 387.8L109.9 387.7L110.5 387.5L111.1 387.4L111.8 387.2L112.4 387.0L113.1 386.7L113.8 386.4L114.4 386.2L115.0 385.9L115.6 385.5L116.3 385.2L116.9 384.8L117.6 384.4L118.3 384.0L119.0 383.6L119.6 383.2L120.2 382.8L120.8 382.4L121.5 382.0L122.1 381.6L122.8 381.2L123.5 380.8L124.2 380.4L124.9 379.9L125.6 379.5L126.2 379.1L126.9 378.7L127.5 378.3L128.1 377.9L128.8 377.5L129.4 377.0L130.1 376.6L130.8 376.1L131.5 375.6L132.2 375.1L132.9 374.6L133.7 374.1L134.4 373.5L135.0 373.1L135.7 372.7L136.3 372.2L136.9 371.8L137.6 371.3L138.2 370.9L138.9 370.4L139.6 369.9L140.3 369.4L141.0 369.0L141.7 368.4L142.4 367.9L143.1 367.4L143.9 366.9L144.6 366.3L145.4 365.8L146.2 365.2L147.0 364.6L147.6 364.2L148.2 363.7L148.8 363.3L149.4 362.8L150.1 362.4L150.7 361.9L151.4 361.4L152.0 360.9L152.7 360.4L153.4 359.9L154.1 359.4L154.8 358.8L155.5 358.3L156.2 357.8L156.9 357.2L157.6 356.7L158.4 356.1L159.1 355.5L159.9 354.9L160.7 354.3L161.5 353.7L162.3 353.1L163.1 352.4L163.9 351.8L164.8 351.1L165.6 350.4L166.5 349.7L167.3 349.0L168.2 348.3L169.1 347.6L169.7 347.1L170.3 346.6L171.0 346.1L171.6 345.6L172.2 345.0L172.9 344.5L173.5 344.0L174.2 343.4L174.8 342.9L175.5 342.3L176.2 341.7L176.9 341.1L177.5 340.6L178.2 340.0L179.0 339.4L179.7 338.7L180.4 338.1L181.1 337.5L181.9 336.8L182.6 336.2L183.4 335.5L184.1 334.8L184.9 334.1L185.7 333.4L186.5 332.7L187.3 332.0L188.1 331.3L188.9 330.5L189.7 329.7L190.6 329.0L191.4 328.2L192.3 327.4L193.1 326.5L194.0 325.7L194.9 324.9L195.8 324.0L196.7 323.1L197.7 322.2L198.6 321.3L199.5 320.3L200.5 319.4L201.5 318.4L202.5 317.4L203.5 316.4L204.5 315.3L205.5 314.3L206.5 313.2L207.6 312.1L208.7 310.9L209.7 309.7L210.8 308.6L211.4 307.9L212.0 307.3L212.5 306.7L213.1 306.1L213.7 305.4L214.2 304.8L214.8 304.1L215.4 303.5L216.0 302.8L216.6 302.1L217.2 301.4L217.8 300.7L218.4 300.0L219.0 299.3L219.6 298.5L220.2 297.8L220.8 297.0L221.5 296.3L222.1 295.5L222.7 294.7L223.4 293.9L224.0 293.1L224.7 292.3L225.3 291.4L226.0 290.6L226.6 289.7L227.3 288.8L228.0 287.9L228.7 287.0L229.3 286.1L230.0 285.2L230.7 284.2L231.4 283.2L232.1 282.3L232.9 281.2L233.6 280.2L234.3 279.2L235.0 278.1L235.8 277.0L236.5 275.9L237.2 274.7L238.0 273.6L238.8 272.4L239.5 271.2L240.3 269.9L241.1 268.7L241.9 267.4L242.6 266.0L243.4 264.7L244.2 263.2L245.1 261.8L245.9 260.3L246.7 258.8L247.5 257.2L248.4 255.6L249.2 253.9L250.1 252.2L250.9 250.4L251.8 248.5L252.7 246.6L253.6 244.4L254.4 242.2L255.3 240.4L256.3 239.1L257.2 238.1L258.1 237.1L259.0 235.9L260.0 234.3L260.9 232.0L261.9 226.0L262.8 219.3L263.8 212.5L264.8 203.2L266.8 170.2L267.8 169.6L268.8 169.1L269.8 168.6L270.9 168.0L271.9 167.5L273.0 166.9L274.1 166.3L275.1 165.8L276.2 165.2L277.3 164.6L278.4 164.1L279.6 163.5L280.7 162.9L281.8 162.3L283.0 161.7L284.2 161.1L285.3 160.5L286.5 159.9L287.7 159.2L289.0 158.6L290.2 158.0L291.4 157.4L292.7 156.7L294.0 156.1L295.2 155.4L296.5 154.8L297.8 154.1L299.2 153.4L300.5 152.7L301.9 152.1L303.2 151.4L304.6 150.7L306.0 150.0L307.4 149.3L308.8 148.6L310.3 147.8L311.7 147.1L313.2 146.4L314.7 145.6L316.2 144.9L317.7 144.1L319.3 143.4L320.8 142.6L322.4 141.8L324.0 141.0L325.6 140.3L327.3 139.5L328.9 138.6L330.6 137.8L332.3 137.0L334.0 136.2L335.8 135.3L337.5 134.5L339.3 133.6L341.1 132.8L343.0 131.9L344.8 131.0L346.7 130.1L348.6 129.2L350.5 128.3L352.4 127.4L354.4 126.5L356.4 125.5L358.4 124.6L360.5 123.6L362.6 122.7L364.7 121.7L366.8 120.7L369.0 119.7L371.2 118.7L373.4 117.7L375.7 116.7L378.0 115.6L380.3 114.6L382.6 113.5L385.0 112.4L387.5 111.4L389.9 110.3L392.4 109.1L394.9 108.0L397.5 106.9L400.1 105.7L402.8 104.6L405.5 103.4L408.2 102.2L411.0 101.0L413.8 99.8L416.6 98.6L419.5 97.4L422.5 96.1L425.5 94.8L428.5 93.6L431.6 92.3L434.8 91.0L438.0 89.6L441.3 88.3L444.6 86.9L447.9 85.6L451.4 84.2L454.8 82.8L458.4 81.4L462.0 79.9L465.7 78.5L469.4 77.0L473.2 75.5L477.1 74.0L481.1 72.5L485.1 71.0L489.2 69.4L493.4 67.8L497.6 66.2L502.0 64.6L506.4 63.0L510.9 61.3L515.5 59.7L520.2 58.0L525.0 56.3L529.9 54.6L534.9 52.8" fill="none" stroke="#BA7AE4" stroke-width="3.0" stroke-linejoin="round"/>
<path d="M88.0 385.2L92.7 390.7L88.0 396.2L83.3 390.7zM89.0 385.2L93.7 390.7L89.0 396.2L84.4 390.7zM90.0 384.9L94.7 390.4L90.0 395.9L85.4 390.4zM91.1 384.7L95.8 390.2L91.1 395.7L86.4 390.2zM92.1 385.0L96.8 390.5L92.1 396.0L87.4 390.5zM93.1 385.2L97.8 390.7L93.1 396.2L88.4 390.7zM94.2 385.3L98.8 390.8L94.2 396.3L89.5 390.8zM95.2 385.2L99.8 390.7L95.2 396.2L90.5 390.7zM96.2 384.9L100.9 390.4L96.2 395.9L91.5 390.4zM97.2 384.6L101.9 390.1L97.2 395.6L92.5 390.1zM98.2 384.4L102.9 389.9L98.2 395.4L93.5 389.9zM99.2 384.3L103.9 389.8L99.2 395.3L94.6 389.8zM100.3 384.2L105.0 389.7L100.3 395.2L95.6 389.7zM101.3 383.9L106.0 389.4L101.3 394.9L96.6 389.4zM102.3 383.6L107.0 389.1L102.3 394.6L97.7 389.1zM103.3 383.2L108.0 388.7L103.3 394.2L98.7 388.7zM104.4 382.8L109.1 388.3L104.4 393.8L99.7 388.3zM105.4 382.6L110.1 388.1L105.4 393.6L100.7 388.1zM106.5 382.5L111.1 388.0L106.5 393.5L101.8 388.0zM107.5 382.4L112.2 387.9L107.5 393.4L102.8 387.9zM108.6 382.4L113.2 387.9L108.6 393.4L103.9 387.9zM109.6 382.2L114.3 387.7L109.6 393.2L104.9 387.7zM110.7 382.0L115.3 387.5L110.7 393.0L106.0 387.5zM111.7 381.7L116.4 387.2L111.7 392.7L107.0 387.2zM112.7 381.3L117.4 386.8L112.7 392.3L108.1 386.8zM113.8 380.9L118.4 386.4L113.8 391.9L109.1 386.4zM114.8 380.5L119.5 386.0L114.8 391.5L110.1 386.0zM115.9 379.9L120.6 385.4L115.9 390.9L111.2 385.4zM116.9 379.3L121.6 384.8L116.9 390.3L112.3 384.8zM118.0 378.7L122.7 384.2L118.0 389.7L113.3 384.2zM119.1 378.0L123.8 383.5L119.1 389.0L114.4 383.5zM120.1 377.4L124.8 382.9L120.1 388.4L115.4 382.9zM121.2 376.7L125.8 382.2L121.2 387.7L116.5 382.2zM122.3 376.1L126.9 381.6L122.3 387.1L117.6 381.6zM123.3 375.4L127.9 380.9L123.3 386.4L118.6 380.9zM124.3 374.8L129.0 380.3L124.3 385.8L119.6 380.3zM125.4 374.1L130.1 379.6L125.4 385.1L120.7 379.6zM126.5 373.5L131.2 379.0L126.5 384.5L121.8 379.0zM127.5 372.8L132.2 378.3L127.5 383.8L122.8 378.3zM128.5 372.1L133.2 377.6L128.5 383.1L123.8 377.6zM129.6 371.4L134.3 376.9L129.6 382.4L124.9 376.9zM130.7 370.7L135.3 376.2L130.7 381.7L126.0 376.2zM131.8 369.9L136.5 375.4L131.8 380.9L127.1 375.4zM132.8 369.2L137.5 374.7L132.8 380.2L128.1 374.7zM133.8 368.5L138.5 374.0L133.8 379.5L129.2 374.0zM134.9 367.7L139.6 373.2L134.9 378.7L130.2 373.2zM136.0 367.0L140.7 372.5L136.0 378.0L131.3 372.5zM137.1 366.2L141.8 371.7L137.1 377.2L132.4 371.7zM138.2 365.4L142.9 370.9L138.2 376.4L133.6 370.9zM139.2 364.7L143.9 370.2L139.2 375.7L134.6 370.2zM140.3 363.9L144.9 369.4L140.3 374.9L135.6 369.4zM141.3 363.2L146.0 368.7L141.3 374.2L136.6 368.7zM142.4 362.4L147.1 367.9L142.4 373.4L137.7 367.9zM143.5 361.6L148.2 367.1L143.5 372.6L138.8 367.1zM144.6 360.8L149.3 366.3L144.6 371.8L140.0 366.3zM145.8 360.0L150.5 365.5L145.8 371.0L141.1 365.5zM147.0 359.1L151.6 364.6L147.0 370.1L142.3 364.6zM148.0 358.4L152.7 363.9L148.0 369.4L143.3 363.9zM149.0 357.6L153.7 363.1L149.0 368.6L144.3 363.1zM150.1 356.9L154.7 362.4L150.1 367.9L145.4 362.4zM151.1 356.1L155.8 361.6L151.1 367.1L146.5 361.6zM152.3 355.2L156.9 360.7L152.3 366.2L147.6 360.7zM153.4 354.4L158.1 359.9L153.4 365.4L148.7 359.9zM154.5 353.5L159.2 359.0L154.5 364.5L149.9 359.0zM155.7 352.6L160.4 358.1L155.7 363.6L151.0 358.1zM156.9 351.7L161.6 357.2L156.9 362.7L152.2 357.2zM158.1 350.8L162.8 356.3L158.1 361.8L153.5 356.3zM159.1 350.0L163.8 355.5L159.1 361.0L154.5 355.5zM160.2 349.2L164.8 354.7L160.2 360.2L155.5 354.7zM161.2 348.4L165.9 353.9L161.2 359.4L156.5 353.9zM162.3 347.6L167.0 353.1L162.3 358.6L157.6 353.1zM163.4 346.7L168.0 352.2L163.4 357.7L158.7 352.2zM164.5 345.8L169.1 351.3L164.5 356.8L159.8 351.3zM165.6 344.9L170.3 350.4L165.6 355.9L160.9 350.4zM166.8 344.0L171.4 349.5L166.8 355.0L162.1 349.5zM167.9 343.1L172.6 348.6L167.9 354.1L163.2 348.6zM169.1 342.1L173.8 347.6L169.1 353.1L164.4 347.6zM170.3 341.1L175.0 346.6L170.3 352.1L165.7 346.6zM171.6 340.1L176.3 345.6L171.6 351.1L166.9 345.6zM172.9 339.0L177.5 344.5L172.9 350.0L168.2 344.5zM174.2 337.9L178.8 343.4L174.2 348.9L169.5 343.4zM175.5 336.8L180.2 342.3L175.5 347.8L170.8 342.3zM176.5 335.9L181.2 341.4L176.5 346.9L171.8 341.4zM177.5 335.1L182.2 340.6L177.5 346.1L172.9 340.6zM178.6 334.2L183.3 339.7L178.6 345.2L173.9 339.7zM179.7 333.2L184.3 338.7L179.7 344.2L175.0 338.7zM180.8 332.3L185.4 337.8L180.8 343.3L176.1 337.8zM181.9 331.3L186.5 336.8L181.9 342.3L177.2 336.8zM183.0 330.3L187.7 335.8L183.0 341.3L178.3 335.8zM184.1 329.3L188.8 334.8L184.1 340.3L179.4 334.8zM185.3 328.3L190.0 333.8L185.3 339.3L180.6 333.8zM186.5 327.2L191.1 332.7L186.5 338.2L181.8 332.7zM187.7 326.1L192.3 331.6L187.7 337.1L183.0 331.6zM188.9 325.0L193.6 330.5L188.9 336.0L184.2 330.5zM190.1 323.9L194.8 329.4L190.1 334.9L185.5 329.4zM191.4 322.7L196.1 328.2L191.4 333.7L186.7 328.2zM192.7 321.5L197.4 327.0L192.7 332.5L188.0 327.0zM194.0 320.2L198.7 325.7L194.0 331.2L189.3 325.7zM195.4 318.9L200.0 324.4L195.4 329.9L190.7 324.4zM196.7 317.6L201.4 323.1L196.7 328.6L192.1 323.1zM198.1 316.2L202.8 321.7L198.1 327.2L193.4 321.7zM199.5 314.8L204.2 320.3L199.5 325.8L194.9 320.3zM201.0 313.4L205.7 318.9L201.0 324.4L196.3 318.9zM202.5 311.9L207.1 317.4L202.5 322.9L197.8 317.4zM203.5 310.9L208.1 316.4L203.5 321.9L198.8 316.4zM204.5 309.8L209.1 315.3L204.5 320.8L199.8 315.3zM205.5 308.8L210.2 314.3L205.5 319.8L200.8 314.3zM206.5 307.7L211.2 313.2L206.5 318.7L201.9 313.2zM207.6 306.6L212.3 312.1L207.6 317.6L202.9 312.1zM208.7 305.4L213.3 310.9L208.7 316.4L204.0 310.9zM209.7 304.2L214.4 309.7L209.7 315.2L205.1 309.7zM210.8 303.1L215.5 308.6L210.8 314.1L206.2 308.6zM212.0 301.8L216.6 307.3L212.0 312.8L207.3 307.3zM213.1 300.6L217.8 306.1L213.1 311.6L208.4 306.1zM214.2 299.3L218.9 304.8L214.2 310.3L209.6 304.8zM215.4 298.0L220.1 303.5L215.4 309.0L210.7 303.5zM216.6 296.6L221.2 302.1L216.6 307.6L211.9 302.1zM217.8 295.2L222.4 300.7L217.8 306.2L213.1 300.7zM219.0 293.8L223.7 299.3L219.0 304.8L214.3 299.3zM220.2 292.3L224.9 297.8L220.2 303.3L215.5 297.8zM221.5 290.8L226.1 296.3L221.5 301.8L216.8 296.3zM222.7 289.2L227.4 294.7L222.7 300.2L218.0 294.7zM224.0 287.6L228.7 293.1L224.0 298.6L219.3 293.1zM225.3 285.9L230.0 291.4L225.3 296.9L220.6 291.4zM226.6 284.2L231.3 289.7L226.6 295.2L222.0 289.7zM228.0 282.4L232.7 287.9L228.0 293.4L223.3 287.9zM229.3 280.6L234.0 286.1L229.3 291.6L224.7 286.1zM230.7 278.7L235.4 284.2L230.7 289.7L226.1 284.2zM232.1 276.8L236.8 282.3L232.1 287.8L227.5 282.3zM232.9 275.7L237.5 281.2L232.9 286.7L228.2 281.2zM233.6 274.7L238.2 280.2L233.6 285.7L228.9 280.2zM234.3 273.7L239.0 279.2L234.3 284.7L229.6 279.2zM235.0 272.6L239.7 278.1L235.0 283.6L230.3 278.1zM235.8 271.5L240.4 277.0L235.8 282.5L231.1 277.0zM236.5 270.4L241.2 275.9L236.5 281.4L231.8 275.9zM237.2 269.2L241.9 274.7L237.2 280.2L232.6 274.7zM238.0 268.1L242.7 273.6L238.0 279.1L233.3 273.6zM238.8 266.9L243.4 272.4L238.8 277.9L234.1 272.4zM239.5 265.7L244.2 271.2L239.5 276.7L234.8 271.2zM240.3 264.4L245.0 269.9L240.3 275.4L235.6 269.9zM241.1 263.2L245.7 268.7L241.1 274.2L236.4 268.7zM241.9 261.9L246.5 267.4L241.9 272.9L237.2 267.4zM242.6 260.5L247.3 266.0L242.6 271.5L238.0 266.0zM243.4 259.2L248.1 264.7L243.4 270.2L238.8 264.7zM244.2 257.7L248.9 263.2L244.2 268.7L239.6 263.2zM245.1 256.3L249.7 261.8L245.1 267.3L240.4 261.8zM245.9 254.8L250.6 260.3L245.9 265.8L241.2 260.3zM246.7 253.3L251.4 258.8L246.7 264.3L242.0 258.8zM247.5 251.7L252.2 257.2L247.5 262.7L242.9 257.2zM248.4 250.1L253.0 255.6L248.4 261.1L243.7 255.6zM249.2 248.4L253.9 253.9L249.2 259.4L244.5 253.9zM250.1 246.7L254.7 252.2L250.1 257.7L245.4 252.2zM250.9 244.9L255.6 250.4L250.9 255.9L246.3 250.4zM251.8 243.0L256.5 248.5L251.8 254.0L247.1 248.5zM252.7 241.1L257.3 246.6L252.7 252.1L248.0 246.6zM253.6 238.9L258.2 244.4L253.6 249.9L248.9 244.4zM254.4 236.7L259.1 242.2L254.4 247.7L249.8 242.2zM255.3 234.9L260.0 240.4L255.3 245.9L250.7 240.4zM256.3 233.6L260.9 239.1L256.3 244.6L251.6 239.1zM257.2 232.6L261.8 238.1L257.2 243.6L252.5 238.1zM259.0 230.4L263.7 235.9L259.0 241.4L254.3 235.9zM260.0 228.8L264.6 234.3L260.0 239.8L255.3 234.3zM260.9 226.5L265.6 232.0L260.9 237.5L256.2 232.0zM261.9 220.5L266.5 226.0L261.9 231.5L257.2 226.0zM262.8 213.8L267.5 219.3L262.8 224.8L258.2 219.3zM263.8 207.0L268.5 212.5L263.8 218.0L259.1 212.5zM264.8 197.7L269.5 203.2L264.8 208.7L260.1 203.2zM266.8 164.7L271.5 170.2L266.8 175.7L262.1 170.2zM267.8 164.1L272.5 169.6L267.8 175.1L263.1 169.6zM268.8 163.6L273.5 169.1L268.8 174.6L264.1 169.1zM269.8 163.1L274.5 168.6L269.8 174.1L265.2 168.6zM270.9 162.5L275.6 168.0L270.9 173.5L266.2 168.0zM271.9 162.0L276.6 167.5L271.9 173.0L267.3 167.5zM273.0 161.4L277.7 166.9L273.0 172.4L268.3 166.9zM274.1 160.8L278.7 166.3L274.1 171.8L269.4 166.3zM275.1 160.3L279.8 165.8L275.1 171.3L270.5 165.8zM276.2 159.7L280.9 165.2L276.2 170.7L271.6 165.2zM277.3 159.1L282.0 164.6L277.3 170.1L272.7 164.6zM278.4 158.6L283.1 164.1L278.4 169.6L273.8 164.1zM279.6 158.0L284.2 163.5L279.6 169.0L274.9 163.5zM280.7 157.4L285.4 162.9L280.7 168.4L276.0 162.9zM281.8 156.8L286.5 162.3L281.8 167.8L277.2 162.3zM283.0 156.2L287.7 161.7L283.0 167.2L278.3 161.7zM284.2 155.6L288.8 161.1L284.2 166.6L279.5 161.1zM285.3 155.0L290.0 160.5L285.3 166.0L280.7 160.5zM286.5 154.4L291.2 159.9L286.5 165.4L281.9 159.9zM287.7 153.7L292.4 159.2L287.7 164.7L283.1 159.2zM289.0 153.1L293.6 158.6L289.0 164.1L284.3 158.6zM290.2 152.5L294.9 158.0L290.2 163.5L285.5 158.0zM291.4 151.9L296.1 157.4L291.4 162.9L286.8 157.4zM292.7 151.2L297.4 156.7L292.7 162.2L288.0 156.7zM294.0 150.6L298.6 156.1L294.0 161.6L289.3 156.1zM295.2 149.9L299.9 155.4L295.2 160.9L290.6 155.4zM296.5 149.3L301.2 154.8L296.5 160.3L291.9 154.8zM297.8 148.6L302.5 154.1L297.8 159.6L293.2 154.1zM299.2 147.9L303.8 153.4L299.2 158.9L294.5 153.4zM300.5 147.2L305.2 152.7L300.5 158.2L295.8 152.7zM301.9 146.6L306.5 152.1L301.9 157.6L297.2 152.1zM303.2 145.9L307.9 151.4L303.2 156.9L298.5 151.4zM304.6 145.2L309.3 150.7L304.6 156.2L299.9 150.7zM306.0 144.5L310.7 150.0L306.0 155.5L301.3 150.0zM307.4 143.8L312.1 149.3L307.4 154.8L302.7 149.3zM308.8 143.1L313.5 148.6L308.8 154.1L304.2 148.6zM310.3 142.3L315.0 147.8L310.3 153.3L305.6 147.8zM311.7 141.6L316.4 147.1L311.7 152.6L307.1 147.1zM313.2 140.9L317.9 146.4L313.2 151.9L308.5 146.4zM314.7 140.1L319.4 145.6L314.7 151.1L310.0 145.6zM316.2 139.4L320.9 144.9L316.2 150.4L311.5 144.9zM317.7 138.6L322.4 144.1L317.7 149.6L313.1 144.1zM319.3 137.9L324.0 143.4L319.3 148.9L314.6 143.4zM320.8 137.1L325.5 142.6L320.8 148.1L316.2 142.6zM322.4 136.3L327.1 141.8L322.4 147.3L317.8 141.8zM324.0 135.5L328.7 141.0L324.0 146.5L319.4 141.0zM325.6 134.8L330.3 140.3L325.6 145.8L321.0 140.3zM327.3 134.0L332.0 139.5L327.3 145.0L322.6 139.5zM328.9 133.1L333.6 138.6L328.9 144.1L324.3 138.6zM330.6 132.3L335.3 137.8L330.6 143.3L325.9 137.8zM332.3 131.5L337.0 137.0L332.3 142.5L327.6 137.0zM334.0 130.7L338.7 136.2L334.0 141.7L329.4 136.2zM335.8 129.8L340.5 135.3L335.8 140.8L331.1 135.3zM337.5 129.0L342.2 134.5L337.5 140.0L332.9 134.5zM339.3 128.1L344.0 133.6L339.3 139.1L334.6 133.6zM341.1 127.3L345.8 132.8L341.1 138.3L336.4 132.8zM343.0 126.4L347.6 131.9L343.0 137.4L338.3 131.9zM344.8 125.5L349.5 131.0L344.8 136.5L340.1 131.0zM346.7 124.6L351.4 130.1L346.7 135.6L342.0 130.1zM348.6 123.7L353.3 129.2L348.6 134.7L343.9 129.2zM350.5 122.8L355.2 128.3L350.5 133.8L345.8 128.3zM352.4 121.9L357.1 127.4L352.4 132.9L347.8 127.4zM354.4 121.0L359.1 126.5L354.4 132.0L349.7 126.5zM356.4 120.0L361.1 125.5L356.4 131.0L351.7 125.5zM358.4 119.1L363.1 124.6L358.4 130.1L353.8 124.6zM360.5 118.1L365.2 123.6L360.5 129.1L355.8 123.6zM362.6 117.2L367.3 122.7L362.6 128.2L357.9 122.7zM364.7 116.2L369.4 121.7L364.7 127.2L360.0 121.7zM366.8 115.2L371.5 120.7L366.8 126.2L362.2 120.7zM369.0 114.2L373.7 119.7L369.0 125.2L364.3 119.7zM371.2 113.2L375.9 118.7L371.2 124.2L366.5 118.7zM373.4 112.2L378.1 117.7L373.4 123.2L368.7 117.7zM375.7 111.2L380.3 116.7L375.7 122.2L371.0 116.7zM378.0 110.1L382.6 115.6L378.0 121.1L373.3 115.6zM380.3 109.1L385.0 114.6L380.3 120.1L375.6 114.6zM382.6 108.0L387.3 113.5L382.6 119.0L378.0 113.5zM385.0 106.9L389.7 112.4L385.0 117.9L380.4 112.4zM387.5 105.9L392.1 111.4L387.5 116.9L382.8 111.4zM389.9 104.8L394.6 110.3L389.9 115.8L385.2 110.3zM392.4 103.6L397.1 109.1L392.4 114.6L387.7 109.1zM394.9 102.5L399.6 108.0L394.9 113.5L390.3 108.0zM397.5 101.4L402.2 106.9L397.5 112.4L392.8 106.9zM400.1 100.2L404.8 105.7L400.1 111.2L395.4 105.7zM402.8 99.1L407.4 104.6L402.8 110.1L398.1 104.6zM405.5 97.9L410.1 103.4L405.5 108.9L400.8 103.4zM408.2 96.7L412.9 102.2L408.2 107.7L403.5 102.2zM411.0 95.5L415.6 101.0L411.0 106.5L406.3 101.0zM413.8 94.3L418.5 99.8L413.8 105.3L409.1 99.8zM416.6 93.1L421.3 98.6L416.6 104.1L412.0 98.6zM419.5 91.9L424.2 97.4L419.5 102.9L414.9 97.4zM422.5 90.6L427.2 96.1L422.5 101.6L417.8 96.1zM425.5 89.3L430.2 94.8L425.5 100.3L420.8 94.8zM428.5 88.1L433.2 93.6L428.5 99.1L423.9 93.6zM431.6 86.8L436.3 92.3L431.6 97.8L427.0 92.3zM434.8 85.5L439.5 91.0L434.8 96.5L430.1 91.0zM438.0 84.1L442.7 89.6L438.0 95.1L433.3 89.6zM441.3 82.8L445.9 88.3L441.3 93.8L436.6 88.3zM444.6 81.4L449.2 86.9L444.6 92.4L439.9 86.9zM447.9 80.1L452.6 85.6L447.9 91.1L443.3 85.6zM451.4 78.7L456.0 84.2L451.4 89.7L446.7 84.2zM454.8 77.3L459.5 82.8L454.8 88.3L450.2 82.8zM458.4 75.9L463.1 81.4L458.4 86.9L453.7 81.4zM462.0 74.4L466.7 79.9L462.0 85.4L457.3 79.9zM465.7 73.0L470.4 78.5L465.7 84.0L461.0 78.5zM469.4 71.5L474.1 77.0L469.4 82.5L464.7 77.0zM473.2 70.0L477.9 75.5L473.2 81.0L468.6 75.5zM477.1 68.5L481.8 74.0L477.1 79.5L472.4 74.0zM481.1 67.0L485.7 72.5L481.1 78.0L476.4 72.5zM485.1 65.5L489.8 71.0L485.1 76.5L480.4 71.0zM489.2 63.9L493.9 69.4L489.2 74.9L484.5 69.4zM493.4 62.3L498.0 67.8L493.4 73.3L488.7 67.8zM497.6 60.7L502.3 66.2L497.6 71.7L492.9 66.2zM502.0 59.1L506.6 64.6L502.0 70.1L497.3 64.6zM506.4 57.5L511.1 63.0L506.4 68.5L501.7 63.0zM510.9 55.8L515.6 61.3L510.9 66.8L506.2 61.3zM515.5 54.2L520.2 59.7L515.5 65.2L510.8 59.7zM520.2 52.5L524.9 58.0L520.2 63.5L515.5 58.0zM525.0 50.8L529.7 56.3L525.0 61.8L520.3 56.3zM529.9 49.1L534.6 54.6L529.9 60.1L525.2 54.6zM534.9 47.3L539.5 52.8L534.9 58.3L530.2 52.8z" fill="#BA7AE4"/>
<path d="M88.0 384.8L88.6 385.2L89.2 385.8L89.8 386.4L90.4 386.7L91.0 386.6L91.7 386.3L92.3 385.9L92.9 385.5L93.5 385.3L94.1 385.4L94.7 385.5L95.4 385.7L96.0 385.8L96.6 385.9L97.2 386.0L97.9 386.0L98.5 385.9L99.1 385.8L99.7 385.7L100.3 385.5L101.0 385.2L101.6 385.0L102.2 384.8L102.9 384.7L103.5 384.6L104.1 384.6L104.8 384.6L105.4 384.5L106.1 384.4L106.7 384.3L107.3 384.1L107.9 383.9L108.6 383.6L109.2 383.3L109.9 382.9L110.5 382.6L111.1 382.1L111.8 381.6L112.4 381.1L113.1 380.6L113.8 380.0L114.4 379.5L115.0 379.0L115.6 378.6L116.3 378.2L116.9 377.8L117.6 377.4L118.3 377.0L119.0 376.6L119.6 376.2L120.2 375.8L120.8 375.4L121.5 374.9L122.1 374.4L122.8 373.8L123.5 373.3L124.2 372.7L124.9 372.1L125.6 371.4L126.2 370.9L126.9 370.3L127.5 369.8L128.1 369.2L128.8 368.6L129.4 368.0L130.1 367.4L130.8 366.8L131.5 366.1L132.2 365.4L132.9 364.8L133.7 364.1L134.4 363.3L135.0 362.8L135.7 362.2L136.3 361.6L136.9 361.0L137.6 360.4L138.2 359.8L138.9 359.2L139.6 358.6L140.3 358.0L141.0 357.4L141.7 356.7L142.4 356.1L143.1 355.4L143.9 354.7L144.6 354.0L145.4 353.3L146.2 352.5L147.0 351.7L147.6 351.1L148.2 350.5L148.8 349.9L149.4 349.2L150.1 348.6L150.7 347.9L151.4 347.3L152.0 346.6L152.7 345.9L153.4 345.2L154.1 344.5L154.8 343.8L155.5 343.1L156.2 342.3L156.9 341.6L157.6 340.9L158.4 340.1L159.1 339.4L159.9 338.6L160.7 337.9L161.5 337.1L162.3 336.3L163.1 335.5L163.9 334.7L164.8 333.8L165.6 332.9L166.5 332.0L167.0 331.4L167.6 330.8L168.2 330.2L168.8 329.6L169.4 328.9L170.0 328.3L170.7 327.6L171.3 326.9L171.9 326.2L172.5 325.5L173.2 324.8L173.8 324.1L174.5 323.4L175.2 322.7L175.8 321.9L176.5 321.1L177.2 320.4L177.9 319.6L178.6 318.8L179.3 318.0L180.0 317.1L180.8 316.3L181.5 315.4L182.2 314.6L183.0 313.7L183.7 312.8L184.5 311.8L185.3 310.9L186.1 309.9L186.9 308.9L187.7 307.9L188.5 306.9L189.3 305.9L190.1 304.8L191.0 303.7L191.8 302.6L192.7 301.5L193.6 300.3L194.5 299.1L194.9 298.5L195.4 297.9L195.8 297.3L196.3 296.7L196.7 296.0L197.2 295.4L197.7 294.7L198.1 294.1L198.6 293.4L199.1 292.7L199.5 292.0L200.0 291.3L200.5 290.6L201.0 289.9L201.5 289.2L202.0 288.5L202.5 287.7L203.0 287.0L203.5 286.2L204.0 285.4L204.5 284.6L205.0 283.8L205.5 283.0L206.0 282.2L206.5 281.3L207.1 280.5L207.6 279.6L208.1 278.7L208.7 277.8L209.2 276.9L209.7 275.9L210.3 275.0L210.8 274.0L211.4 273.0L212.0 272.0L212.5 270.9L213.1 269.9L213.7 268.8L214.2 267.7L214.8 266.6L215.4 265.4L216.0 264.2L216.6 263.0L217.2 261.7L217.8 260.4L218.4 259.1L219.0 257.7L219.6 256.3L220.2 254.9L220.8 253.4L221.5 251.8L222.1 250.2L222.7 248.5L223.4 246.7L224.0 244.8L224.7 242.3L225.3 239.9L226.0 239.3L226.6 242.0L227.3 240.7L228.0 238.3L228.7 235.8L229.3 233.3L230.0 230.0L230.7 224.5L231.4 215.5L232.1 208.0M233.6 191.3L234.3 190.9L235.0 190.4L235.8 190.0L236.5 189.6L237.2 189.2L238.0 188.8L238.8 188.4L239.5 188.0L240.3 187.5L241.1 187.1L241.9 186.7L242.6 186.2L243.4 185.8L244.2 185.4L245.1 184.9L245.9 184.5L246.7 184.0L247.5 183.6L248.4 183.1L249.2 182.7L250.1 182.2L250.9 181.7L251.8 181.3L252.7 180.8L253.6 180.3L254.4 179.8L255.3 179.3L256.3 178.8L257.2 178.4L258.1 177.9L259.0 177.4L260.0 176.9L260.9 176.3L261.9 175.8L262.8 175.3L263.8 174.8L264.8 174.3L265.8 173.7L266.8 173.2L267.8 172.7L268.8 172.1L269.8 171.6L270.9 171.0L271.9 170.5L273.0 169.9L274.1 169.4L275.1 168.8L276.2 168.2L277.3 167.6L278.4 167.1L279.6 166.5L280.7 165.9L281.8 165.3L283.0 164.7L284.2 164.1L285.3 163.5L286.5 162.9L287.7 162.2L289.0 161.6L290.2 161.0L291.4 160.3L292.7 159.7L294.0 159.0L295.2 158.4L296.5 157.7L297.8 157.1L299.2 156.4L300.5 155.7L301.9 155.0L303.2 154.3L304.6 153.6L306.0 152.9L307.4 152.2L308.8 151.5L310.3 150.8L311.7 150.0L313.2 149.3L314.7 148.6L316.2 147.8L317.7 147.1L319.3 146.3L320.8 145.5L322.4 144.8L324.0 144.0L325.6 143.2L327.3 142.4L328.9 141.6L330.6 140.7L332.3 139.9L334.0 139.1L335.8 138.3L337.5 137.4L339.3 136.6L341.1 135.7L343.0 134.8L344.8 133.9L346.7 133.0L348.6 132.1L350.5 131.2L352.4 130.3L354.4 129.4L356.4 128.5L358.4 127.5L360.5 126.6L362.6 125.6L364.7 124.6L366.8 123.6L369.0 122.6L371.2 121.6L373.4 120.6L375.7 119.6L378.0 118.5L380.3 117.5L382.6 116.5L385.0 115.5L387.5 114.4L389.9 113.4L392.4 112.4L394.9 111.3L397.5 110.2L400.1 109.1L402.8 108.0L405.5 106.9L408.2 105.8L411.0 104.7L413.8 103.5L416.6 102.4L419.5 101.2L422.5 100.0L425.5 98.8L428.5 97.6L431.6 96.4L434.8 95.1L438.0 93.9L441.3 92.6L444.6 91.3L447.9 90.1L451.4 88.8L454.8 87.4L458.4 86.1L462.0 84.8L465.7 83.4L469.4 82.0L473.2 80.6L477.1 79.2L481.1 77.8L485.1 76.4L489.2 74.9L493.4 73.4L497.6 71.9L502.0 70.4L506.4 68.9L510.9 67.3L515.5 65.8L520.2 64.2L525.0 62.6L529.9 61.0L534.9 59.4" fill="none" stroke="#DD9D00" stroke-width="3.0" stroke-linejoin="round"/>
<path d="M83.0 384.8L93.0 379.0V390.6zM84.1 385.6L94.0 379.9V391.4zM85.1 386.6L95.0 380.8V392.4zM86.1 386.6L96.0 380.8V392.4zM87.1 386.0L97.0 380.2V391.8zM88.2 385.4L98.1 379.7V391.2zM89.2 385.4L99.1 379.6V391.1zM90.2 385.6L100.1 379.8V391.4zM91.2 385.9L101.1 380.1V391.6zM92.2 386.0L102.1 380.2V391.8zM93.2 386.0L103.1 380.2V391.7zM94.3 385.8L104.2 380.0V391.6zM95.3 385.5L105.2 379.7V391.3zM96.4 385.1L106.3 379.3V390.9zM97.4 384.8L107.3 379.0V390.6zM98.4 384.7L108.3 378.9V390.4zM99.4 384.6L109.3 378.8V390.4zM100.4 384.5L110.3 378.7V390.3zM101.5 384.3L111.4 378.6V390.1zM102.5 384.0L112.4 378.3V389.8zM103.6 383.6L113.5 377.8V389.4zM104.6 383.1L114.5 377.3V388.9zM105.7 382.5L115.6 376.7V388.2zM106.7 381.7L116.6 375.9V387.5zM107.8 380.8L117.7 375.1V386.6zM108.8 380.0L118.7 374.2V385.8zM109.9 379.2L119.8 373.4V384.9zM111.0 378.4L120.9 372.7V384.2zM112.0 377.8L121.9 372.0V383.6zM113.0 377.2L122.9 371.4V383.0zM114.1 376.5L124.0 370.8V382.3zM115.2 375.9L125.1 370.1V381.7zM116.2 375.1L126.1 369.3V380.9zM117.3 374.3L127.2 368.5V380.1zM118.3 373.5L128.2 367.7V379.2zM119.4 372.6L129.3 366.8V378.3zM120.4 371.6L130.3 365.9V377.4zM121.5 370.7L131.4 364.9V376.4zM122.5 369.8L132.4 364.0V375.5zM123.6 368.8L133.5 363.1V374.6zM124.6 367.9L134.5 362.1V373.6zM125.7 366.9L135.6 361.1V372.7zM126.8 365.8L136.7 360.1V371.6zM127.9 364.9L137.8 359.1V370.7zM128.9 363.9L138.8 358.1V369.7zM129.9 362.9L139.8 357.1V368.7zM131.0 361.9L140.9 356.1V367.7zM132.1 360.8L142.0 355.1V366.6zM133.3 359.8L143.2 354.0V365.6zM134.3 358.9L144.2 353.1V364.7zM135.3 358.0L145.2 352.2V363.8zM136.4 357.0L146.3 351.3V362.8zM137.4 356.1L147.3 350.3V361.8zM138.6 355.1L148.4 349.3V360.8zM139.7 354.0L149.6 348.2V359.8zM140.8 352.9L150.7 347.1V358.7zM142.0 351.7L151.9 345.9V357.5zM143.0 350.7L152.9 344.9V356.5zM144.1 349.6L154.0 343.9V355.4zM145.1 348.6L155.0 342.8V354.3zM146.2 347.5L156.1 341.7V353.2zM147.3 346.4L157.2 340.6V352.1zM148.4 345.2L158.3 339.4V351.0zM149.6 344.0L159.5 338.2V349.8zM150.8 342.8L160.7 337.0V348.6zM152.0 341.6L161.9 335.8V347.4zM153.2 340.4L163.1 334.6V346.1zM154.2 339.4L164.1 333.6V345.1zM155.2 338.4L165.1 332.6V344.1zM156.3 337.4L166.2 331.6V343.1zM157.3 336.3L167.2 330.5V342.1zM158.4 335.2L168.3 329.5V341.0zM159.5 334.1L169.4 328.3V339.9zM160.6 332.9L170.5 327.2V338.7zM161.8 331.7L171.7 326.0V337.5zM163.0 330.5L172.9 324.7V336.3zM164.2 329.2L174.1 323.5V335.0zM165.4 327.9L175.3 322.1V333.7zM166.3 326.9L176.2 321.1V332.7zM167.3 325.9L177.2 320.1V331.7zM168.2 324.8L178.1 319.1V330.6zM169.2 323.8L179.1 318.0V329.5zM170.2 322.7L180.1 316.9V328.4zM171.2 321.5L181.1 315.8V327.3zM172.3 320.4L182.2 314.6V326.1zM173.3 319.2L183.2 313.4V325.0zM174.4 318.0L184.3 312.2V323.7zM175.4 316.7L185.3 310.9V322.5zM176.5 315.4L186.4 309.7V321.2zM177.7 314.1L187.6 308.3V319.9zM178.8 312.8L188.7 307.0V318.5zM179.9 311.4L189.8 305.6V317.1zM181.1 309.9L191.0 304.2V315.7zM182.3 308.4L192.2 302.7V314.2zM183.1 307.4L193.0 301.7V313.2zM183.9 306.4L193.8 300.6V312.2zM184.8 305.4L194.7 299.6V311.1zM185.6 304.3L195.5 298.5V310.1zM186.5 303.2L196.4 297.4V309.0zM187.3 302.1L197.2 296.3V307.8zM188.2 300.9L198.1 295.1V306.7zM189.1 299.7L199.0 294.0V305.5zM190.0 298.5L199.9 292.7V304.3zM190.9 297.3L200.8 291.5V303.1zM191.8 296.0L201.7 290.3V301.8zM192.7 294.7L202.6 289.0V300.5zM193.6 293.4L203.5 287.6V299.2zM194.6 292.0L204.5 286.3V297.8zM195.6 290.6L205.4 284.9V296.4zM196.5 289.2L206.4 283.4V295.0zM197.5 287.7L207.4 281.9V293.5zM198.5 286.2L208.4 280.4V292.0zM199.5 284.6L209.4 278.8V290.4zM200.6 283.0L210.4 277.2V288.8zM201.6 281.3L211.5 275.5V287.1zM202.6 279.6L212.5 273.8V285.4zM203.7 277.8L213.6 272.0V283.6zM204.8 275.9L214.7 270.1V281.7zM205.9 274.0L215.8 268.2V279.8zM207.0 272.0L216.9 266.2V277.8zM207.6 270.9L217.5 265.2V276.7zM208.1 269.9L218.0 264.1V275.7zM208.7 268.8L218.6 263.0V274.6zM209.3 267.7L219.2 261.9V273.5zM209.9 266.6L219.8 260.8V272.3zM210.4 265.4L220.3 259.6V271.2zM211.0 264.2L220.9 258.4V270.0zM211.6 263.0L221.5 257.2V268.8zM212.2 261.7L222.1 256.0V267.5zM212.8 260.4L222.7 254.7V266.2zM213.4 259.1L223.3 253.3V264.9zM214.0 257.7L223.9 252.0V263.5zM214.6 256.3L224.5 250.6V262.1zM215.3 254.9L225.2 249.1V260.6zM215.9 253.4L225.8 247.6V259.1zM216.5 251.8L226.4 246.0V257.6zM217.1 250.2L227.0 244.4V255.9zM217.8 248.5L227.7 242.7V254.2zM218.4 246.7L228.3 240.9V252.5zM219.1 244.8L229.0 239.1V250.6zM219.7 242.3L229.6 236.5V248.1zM220.4 239.9L230.3 234.1V245.6zM221.7 242.0L231.6 236.2V247.7zM222.4 240.7L232.3 234.9V246.5zM223.0 238.3L232.9 232.5V244.1zM223.7 235.8L233.6 230.0V241.6zM224.4 233.3L234.3 227.5V239.1zM225.1 230.0L235.0 224.2V235.8zM225.8 224.5L235.7 218.7V230.2zM226.5 215.5L236.4 209.7V221.2zM227.2 208.0L237.1 202.2V213.8zM228.6 191.3L238.5 185.5V197.0zM230.1 190.4L240.0 184.7V196.2zM231.6 189.6L241.4 183.9V195.4zM233.1 188.8L242.9 183.0V194.6zM234.6 188.0L244.5 182.2V193.7zM236.1 187.1L246.0 181.3V192.9zM237.7 186.2L247.6 180.5V192.0zM239.3 185.4L249.2 179.6V191.1zM240.9 184.5L250.8 178.7V190.3zM242.6 183.6L252.5 177.8V189.3zM244.3 182.7L254.2 176.9V188.4zM246.0 181.7L255.9 176.0V187.5zM247.7 180.8L257.6 175.0V186.6zM249.5 179.8L259.4 174.0V185.6zM251.3 178.8L261.2 173.1V184.6zM253.1 177.9L263.0 172.1V183.6zM255.0 176.9L264.9 171.1V182.6zM256.9 175.8L266.8 170.1V181.6zM258.9 174.8L268.8 169.0V180.6zM260.8 173.7L270.7 168.0V179.5zM261.8 173.2L271.7 167.4V179.0zM262.8 172.7L272.7 166.9V178.5zM263.9 172.1L273.8 166.4V177.9zM264.9 171.6L274.8 165.8V177.4zM265.9 171.0L275.8 165.3V176.8zM267.0 170.5L276.9 164.7V176.3zM268.0 169.9L277.9 164.2V175.7zM269.1 169.4L279.0 163.6V175.1zM270.2 168.8L280.1 163.0V174.6zM271.3 168.2L281.2 162.4V174.0zM272.4 167.6L282.3 161.9V173.4zM273.5 167.1L283.4 161.3V172.8zM274.6 166.5L284.5 160.7V172.3zM275.7 165.9L285.6 160.1V171.7zM276.9 165.3L286.8 159.5V171.1zM278.1 164.7L287.9 158.9V170.5zM279.2 164.1L289.1 158.3V169.9zM280.4 163.5L290.3 157.7V169.2zM281.6 162.9L291.5 157.1V168.6zM282.8 162.2L292.7 156.5V168.0zM284.0 161.6L293.9 155.8V167.4zM285.2 161.0L295.1 155.2V166.7zM286.5 160.3L296.4 154.6V166.1zM287.7 159.7L297.6 153.9V165.5zM289.0 159.0L298.9 153.3V164.8zM290.3 158.4L300.2 152.6V164.2zM291.6 157.7L301.5 151.9V163.5zM292.9 157.1L302.8 151.3V162.8zM294.2 156.4L304.1 150.6V162.2zM295.6 155.7L305.4 149.9V161.5zM296.9 155.0L306.8 149.2V160.8zM298.3 154.3L308.2 148.6V160.1zM299.6 153.6L309.5 147.9V159.4zM301.0 152.9L310.9 147.2V158.7zM302.5 152.2L312.4 146.4V158.0zM303.9 151.5L313.8 145.7V157.3zM305.3 150.8L315.2 145.0V156.6zM306.8 150.0L316.7 144.3V155.8zM308.3 149.3L318.2 143.5V155.1zM309.8 148.6L319.7 142.8V154.3zM311.3 147.8L321.2 142.0V153.6zM312.8 147.1L322.7 141.3V152.8zM314.3 146.3L324.2 140.5V152.1zM315.9 145.5L325.8 139.8V151.3zM317.5 144.8L327.4 139.0V150.5zM319.1 144.0L329.0 138.2V149.7zM320.7 143.2L330.6 137.4V148.9zM322.3 142.4L332.2 136.6V148.1zM324.0 141.6L333.9 135.8V147.3zM325.7 140.7L335.6 135.0V146.5zM327.4 139.9L337.3 134.2V145.7zM329.1 139.1L339.0 133.3V144.9zM330.8 138.3L340.7 132.5V144.0zM332.6 137.4L342.5 131.6V143.2zM334.4 136.6L344.3 130.8V142.3zM336.2 135.7L346.1 129.9V141.5zM338.0 134.8L347.9 129.0V140.6zM339.9 133.9L349.8 128.2V139.7zM341.7 133.0L351.6 127.3V138.8zM343.6 132.1L353.5 126.4V137.9zM345.6 131.2L355.4 125.5V137.0zM347.5 130.3L357.4 124.5V136.1zM349.5 129.4L359.4 123.6V135.2zM351.5 128.5L361.4 122.7V134.2zM353.5 127.5L363.4 121.7V133.3zM355.6 126.6L365.5 120.8V132.3zM357.6 125.6L367.5 119.8V131.4zM359.7 124.6L369.6 118.8V130.4zM361.9 123.6L371.8 117.9V129.4zM364.0 122.6L373.9 116.9V128.4zM366.2 121.6L376.1 115.9V127.4zM368.5 120.6L378.4 114.8V126.4zM370.7 119.6L380.6 113.8V125.4zM373.0 118.5L382.9 112.8V124.3zM375.3 117.5L385.2 111.7V123.3zM377.7 116.5L387.6 110.7V122.3zM380.1 115.5L390.0 109.7V121.2zM382.5 114.4L392.4 108.7V120.2zM385.0 113.4L394.9 107.6V119.2zM387.5 112.4L397.4 106.6V118.1zM390.0 111.3L399.9 105.5V117.1zM392.6 110.2L402.5 104.4V116.0zM395.2 109.1L405.1 103.4V114.9zM397.8 108.0L407.7 102.3V113.8zM400.5 106.9L410.4 101.1V112.7zM403.2 105.8L413.1 100.0V111.6zM406.0 104.7L415.9 98.9V110.4zM408.8 103.5L418.7 97.7V109.3zM411.7 102.4L421.6 96.6V108.1zM414.6 101.2L424.5 95.4V107.0zM417.6 100.0L427.4 94.2V105.8zM420.6 98.8L430.4 93.0V104.6zM423.6 97.6L433.5 91.8V103.4zM426.7 96.4L436.6 90.6V102.1zM429.8 95.1L439.7 89.4V100.9zM433.1 93.9L442.9 88.1V99.7zM436.3 92.6L446.2 86.8V98.4zM439.6 91.3L449.5 85.6V97.1zM443.0 90.1L452.9 84.3V95.8zM446.4 88.8L456.3 83.0V94.5zM449.9 87.4L459.8 81.7V93.2zM453.4 86.1L463.3 80.3V91.9zM457.1 84.8L467.0 79.0V90.5zM460.7 83.4L470.6 77.6V89.2zM464.5 82.0L474.4 76.2V87.8zM468.3 80.6L478.2 74.9V86.4zM472.2 79.2L482.1 73.5V85.0zM476.1 77.8L486.0 72.0V83.6zM480.1 76.4L490.0 70.6V82.1zM484.2 74.9L494.1 69.1V80.7zM488.4 73.4L498.3 67.6V79.2zM492.7 71.9L502.6 66.1V77.7zM497.0 70.4L506.9 64.6V76.2zM501.4 68.9L511.3 63.1V74.7zM505.9 67.3L515.8 61.6V73.1zM510.6 65.8L520.5 60.0V71.6zM515.2 64.2L525.1 58.4V70.0zM520.0 62.6L529.9 56.9V68.4zM524.9 61.0L534.8 55.2V66.8zM529.9 59.4L539.8 53.6V65.2z" fill="#DD9D00"/>
</g>
<line x1="236.1" y1="201.1" x2="188.6" y2="399.5" stroke="#000" stroke-width="1.6"/>
<path d="M186.7 407.3L185.9 396.8L188.4 400.0L192.1 398.3z" fill="#000"/>
<line x1="536.7" y1="190.3" x2="468.7" y2="399.7" stroke="#000" stroke-width="1.6"/>
<path d="M466.2 407.3L466.2 396.8L468.5 400.2L472.3 398.8z" fill="#000"/>
<line x1="195.5" y1="391.5" x2="472" y2="389.3" stroke="#000" stroke-width="1.7" stroke-dasharray="3.6 2.9"/>
<text x="290.6" y="384.1" font-size="14" fill="#000" stroke="#000" stroke-width="0.25">Bandgap engineering</text>
<rect x="88" y="15.6" width="450" height="392" fill="none" stroke="#000" stroke-width="1.8"/>
<path d="M82 407.6H88M85 374.9H88M82 342.3H88M85 309.6H88M82 276.9H88M85 244.3H88M82 211.6H88M85 178.9H88M82 146.3H88M85 113.6H88M82 80.9H88M85 48.3H88M82 15.6H88M88.0 407.6V410.6M125.5 407.6V413.6M163.0 407.6V410.6M200.5 407.6V413.6M238.0 407.6V410.6M275.5 407.6V413.6M313.0 407.6V410.6M350.5 407.6V413.6M388.0 407.6V410.6M425.5 407.6V413.6M463.0 407.6V410.6M500.5 407.6V413.6M538.0 407.6V410.6" stroke="#000" stroke-width="1.8" fill="none"/>
<text x="77.5" y="412.8" font-size="16" font-weight="bold" text-anchor="end">0</text>
<text x="77.5" y="347.5" font-size="16" font-weight="bold" text-anchor="end">100</text>
<text x="77.5" y="282.1" font-size="16" font-weight="bold" text-anchor="end">200</text>
<text x="77.5" y="216.8" font-size="16" font-weight="bold" text-anchor="end">300</text>
<text x="77.5" y="151.5" font-size="16" font-weight="bold" text-anchor="end">400</text>
<text x="77.5" y="86.1" font-size="16" font-weight="bold" text-anchor="end">500</text>
<text x="77.5" y="20.8" font-size="16" font-weight="bold" text-anchor="end">600</text>
<text x="125.5" y="433" font-size="16" font-weight="bold" text-anchor="middle">1</text>
<text x="200.5" y="433" font-size="16" font-weight="bold" text-anchor="middle">2</text>
<text x="275.5" y="433" font-size="16" font-weight="bold" text-anchor="middle">3</text>
<text x="350.5" y="433" font-size="16" font-weight="bold" text-anchor="middle">4</text>
<text x="425.5" y="433" font-size="16" font-weight="bold" text-anchor="middle">5</text>
<text x="500.5" y="433" font-size="16" font-weight="bold" text-anchor="middle">6</text>
<text x="273.5" y="463.2" font-size="19" font-weight="bold" font-style="italic" textLength="65" lengthAdjust="spacingAndGlyphs">h<tspan font-weight="normal">υ</tspan>, (eV)</text>
<g transform="translate(29.3,294.4) rotate(-90)"><text x="-0.9" y="0" style="font-family:Liberation Serif,serif" font-style="italic" font-size="20.5" letter-spacing="1.9" stroke="#000" stroke-width="0.6">(αhυ)</text><text x="53.6" y="-8.5" font-size="19" font-weight="bold" font-style="italic" letter-spacing="0.8">1/2</text><text x="80.5" y="0" font-size="21" font-weight="bold" font-style="italic">,</text><text x="93.5" y="0" font-size="21" font-weight="bold" font-style="italic">(eV/m)</text><text x="158.5" y="-8.5" font-size="19" font-weight="bold" font-style="italic" letter-spacing="1">1/2</text></g>
<g transform="translate(518,34.2) scale(0.88,1)"><text x="0" y="0" font-size="17.5" font-weight="bold">(a)</text></g>
<path d="M93.8 26.8H102.5M113.5 26.8H122.7" stroke="#4F4F4F" stroke-width="4"/>
<path d="M104.8 22.9h6.4v7.8h-6.4z" fill="#4F4F4F"/>
<g transform="translate(131,32.2) scale(0.9,1)"><text x="0" y="0" font-size="14" font-weight="bold">Pure PB ZnO<tspan font-size="10" dy="3.2">0</tspan></text></g>
<path d="M93.8 48.8H102.5M113.5 48.8H122.7" stroke="#F53F3F" stroke-width="4"/>
<path d="M104.5 48.8a3.5 4.5 0 1 0 7 0a3.5 4.5 0 1 0 -7 0z" fill="#F53F3F"/>
<g transform="translate(131,54.2) scale(0.9,1)"><text x="0" y="0" font-size="14" font-weight="bold">PB ZnO<tspan font-size="10" dy="3.2">1</tspan></text></g>
<path d="M93.8 70.8H102.5M113.5 70.8H122.7" stroke="#1A6FE0" stroke-width="4"/>
<path d="M108.0 65.3L112.6 74.4H103.4z" fill="#1A6FE0"/>
<g transform="translate(131,76.2) scale(0.9,1)"><text x="0" y="0" font-size="14" font-weight="bold">PB ZnO<tspan font-size="10" dy="3.2">2</tspan></text></g>
<path d="M93.8 92.8H102.5M113.5 92.8H122.7" stroke="#25A866" stroke-width="4"/>
<path d="M108.0 98.0L112.6 89.2H103.4z" fill="#25A866"/>
<g transform="translate(131,98.2) scale(0.9,1)"><text x="0" y="0" font-size="14" font-weight="bold">PB ZnO<tspan font-size="10" dy="3.2">3</tspan></text></g>
<path d="M93.8 114.8H102.5M113.5 114.8H122.7" stroke="#BA7AE4" stroke-width="4"/>
<path d="M108.0 109.8L112.0 114.8L108.0 119.8L104.0 114.8z" fill="#BA7AE4"/>
<g transform="translate(131,120.2) scale(0.9,1)"><text x="0" y="0" font-size="14" font-weight="bold">PB ZnO<tspan font-size="10" dy="3.2">4</tspan></text></g>
<path d="M93.8 136.8H102.5M113.5 136.8H122.7" stroke="#DD9D00" stroke-width="4"/>
<path d="M103.7 136.8L111.0 131.8V141.8z" fill="#DD9D00"/>
<g transform="translate(131,142.2) scale(0.9,1)"><text x="0" y="0" font-size="14" font-weight="bold">PB ZnO<tspan font-size="10" dy="3.2">5</tspan></text></g>
</svg>
</body></html>
